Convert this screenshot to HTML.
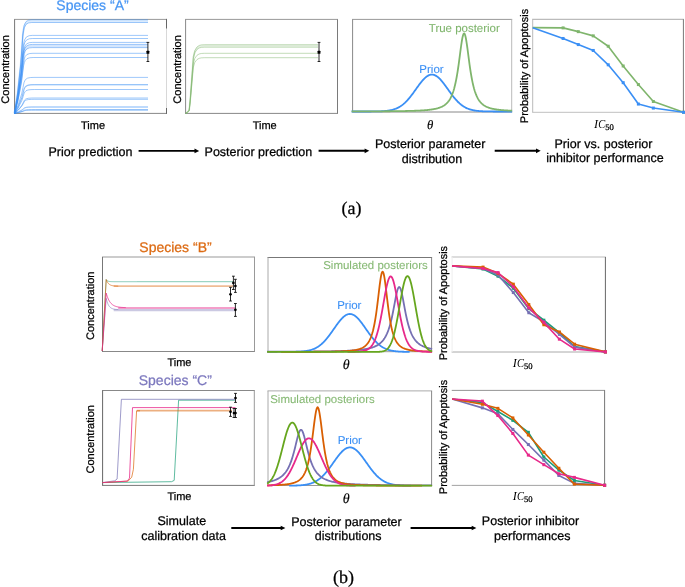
<!DOCTYPE html>
<html lang="en"><head><meta charset="utf-8"><title>Figure</title>
<style>html,body{margin:0;padding:0;background:#fff}svg{display:block}text{text-rendering:geometricPrecision}</style></head>
<body>
<svg width="685" height="587" viewBox="0 0 685 587">
<rect width="685" height="587" fill="#fff"/>
<path d="M14.1 19.4 H167" stroke="#999" stroke-width="1"/>
<path d="M14.1 113.4 H167" stroke="#888" stroke-width="1"/>
<path d="M14.6 19.4 V113.4" stroke="#777" stroke-width="1"/>
<path d="M166.5 19.4 V113.4" stroke="#d8d8d8" stroke-width="1"/>
<path d="M14.6 113.4 L17.6 92.81 L20.8 62.86 L22 46.01 L22.8 33.84 L23.6 28.22 L24.3 24.95 L26 21.67 L28.6 20.17 L31.6 19.8 L148 19.8" fill="none" stroke="#3a8ff5" stroke-width="0.8" stroke-opacity="0.62" stroke-linejoin="round" />
<path d="M14.6 113.4 L17.62 93.4 L20.84 64.31 L22.05 47.95 L22.85 36.14 L23.66 30.68 L24.36 27.5 L26.08 24.32 L28.69 22.86 L31.71 22.5 L148 22.5" fill="none" stroke="#3a8ff5" stroke-width="0.8" stroke-opacity="0.62" stroke-linejoin="round" />
<path d="M14.6 113.4 L17.71 96.24 L21.04 71.28 L22.28 57.24 L23.11 47.1 L23.94 42.42 L24.67 39.69 L26.43 36.96 L29.13 35.71 L32.25 35.4 L148 35.4" fill="none" stroke="#3a8ff5" stroke-width="0.8" stroke-opacity="0.62" stroke-linejoin="round" />
<path d="M14.6 113.4 L17.74 96.92 L21.08 72.95 L22.34 59.47 L23.17 49.73 L24.01 45.24 L24.74 42.62 L26.52 40 L29.24 38.8 L32.38 38.5 L148 38.5" fill="none" stroke="#3a8ff5" stroke-width="0.8" stroke-opacity="0.62" stroke-linejoin="round" />
<path d="M14.6 113.4 L17.77 97.78 L21.14 75.06 L22.41 62.28 L23.25 53.05 L24.1 48.79 L24.84 46.31 L26.63 43.82 L29.37 42.68 L32.54 42.4 L148 42.4" fill="none" stroke="#3a8ff5" stroke-width="0.8" stroke-opacity="0.62" stroke-linejoin="round" />
<path d="M14.6 113.4 L17.78 98.22 L21.17 76.14 L22.44 63.72 L23.29 54.75 L24.14 50.61 L24.88 48.2 L26.69 45.78 L29.44 44.68 L32.62 44.4 L148 44.4" fill="none" stroke="#3a8ff5" stroke-width="0.8" stroke-opacity="0.62" stroke-linejoin="round" />
<path d="M14.6 113.4 L17.8 98.92 L21.22 77.87 L22.5 66.02 L23.36 57.47 L24.21 53.52 L24.96 51.22 L26.77 48.92 L29.55 47.86 L32.76 47.6 L148 47.6" fill="none" stroke="#3a8ff5" stroke-width="0.8" stroke-opacity="0.62" stroke-linejoin="round" />
<path d="M14.6 113.4 L17.85 100.18 L21.31 80.95 L22.61 70.13 L23.47 62.31 L24.34 58.71 L25.09 56.61 L26.93 54.5 L29.75 53.54 L32.99 53.3 L148 53.3" fill="none" stroke="#3a8ff5" stroke-width="0.8" stroke-opacity="0.62" stroke-linejoin="round" />
<path d="M14.6 113.4 L17.88 101.1 L21.37 83.21 L22.68 73.15 L23.56 65.89 L24.43 62.53 L25.19 60.57 L27.05 58.62 L29.89 57.72 L33.17 57.5 L148 57.5" fill="none" stroke="#3a8ff5" stroke-width="0.8" stroke-opacity="0.62" stroke-linejoin="round" />
<path d="M14.6 113.4 L18.02 105.48 L21.67 93.96 L23.04 87.48 L23.95 82.8 L24.87 80.64 L25.67 79.38 L27.61 78.12 L30.57 77.54 L33.99 77.4 L148 77.4" fill="none" stroke="#3a8ff5" stroke-width="0.8" stroke-opacity="0.62" stroke-linejoin="round" />
<path d="M14.6 113.4 L18.08 107.09 L21.78 97.9 L23.17 92.74 L24.1 89 L25.03 87.28 L25.84 86.28 L27.81 85.27 L30.82 84.81 L34.3 84.7 L148 84.7" fill="none" stroke="#3a8ff5" stroke-width="0.8" stroke-opacity="0.62" stroke-linejoin="round" />
<path d="M14.6 113.4 L18.11 108.14 L21.86 100.49 L23.26 96.19 L24.2 93.09 L25.13 91.65 L25.95 90.81 L27.94 89.98 L30.99 89.6 L34.5 89.5 L148 89.5" fill="none" stroke="#3a8ff5" stroke-width="0.8" stroke-opacity="0.62" stroke-linejoin="round" />
<path d="M14.6 113.4 L18.17 110.01 L21.99 105.08 L23.41 102.31 L24.37 100.31 L25.32 99.39 L26.15 98.85 L28.18 98.31 L31.28 98.06 L34.85 98 L148 98" fill="none" stroke="#3a8ff5" stroke-width="0.8" stroke-opacity="0.62" stroke-linejoin="round" />
<path d="M14.6 113.4 L18.18 110.3 L22 105.79 L23.44 103.25 L24.39 101.41 L25.35 100.57 L26.19 100.08 L28.22 99.58 L31.32 99.36 L34.9 99.3 L148 99.3" fill="none" stroke="#3a8ff5" stroke-width="0.8" stroke-opacity="0.62" stroke-linejoin="round" />
<path d="M14.6 113.4 L18.24 111.99 L22.12 109.94 L23.58 108.79 L24.55 107.96 L25.52 107.58 L26.37 107.35 L28.43 107.13 L31.58 107.03 L35.22 107 L148 107" fill="none" stroke="#3a8ff5" stroke-width="0.8" stroke-opacity="0.62" stroke-linejoin="round" />
<path d="M14.6 113.4 L18.26 112.56 L22.16 111.35 L23.62 110.66 L24.6 110.17 L25.58 109.94 L26.43 109.81 L28.5 109.68 L31.67 109.62 L35.33 109.6 L148 109.6" fill="none" stroke="#3a8ff5" stroke-width="0.8" stroke-opacity="0.62" stroke-linejoin="round" />
<path d="M14.6 113.4 L18.26 112.7 L22.17 111.67 L23.64 111.1 L24.61 110.68 L25.59 110.49 L26.44 110.38 L28.52 110.26 L31.69 110.21 L35.36 110.2 L148 110.2" fill="none" stroke="#3a8ff5" stroke-width="0.8" stroke-opacity="0.62" stroke-linejoin="round" />
<path d="M14.6 113.4 L17.61 93.12 L20.82 63.61 L22.03 47.02 L22.83 35.03 L23.63 29.5 L24.33 26.27 L26.04 23.04 L28.65 21.57 L31.66 21.2 L148 21.2" fill="none" stroke="#3a8ff5" stroke-width="2.0" stroke-opacity="0.18" stroke-linejoin="round" />
<path d="M14.6 113.4 L17.79 98.57 L21.2 77 L22.47 64.87 L23.33 56.11 L24.18 52.07 L24.92 49.71 L26.73 47.35 L29.5 46.27 L32.69 46 L148 46" fill="none" stroke="#3a8ff5" stroke-width="2.6" stroke-opacity="0.22" stroke-linejoin="round" />
<path d="M14.6 113.4 L18.08 107.09 L21.78 97.9 L23.17 92.74 L24.1 89 L25.03 87.28 L25.84 86.28 L27.81 85.27 L30.82 84.81 L34.3 84.7 L148 84.7" fill="none" stroke="#3a8ff5" stroke-width="1.4" stroke-opacity="0.2" stroke-linejoin="round" />
<path d="M14.6 113.4 L18.24 111.99 L22.12 109.94 L23.58 108.79 L24.55 107.96 L25.52 107.58 L26.37 107.35 L28.43 107.13 L31.58 107.03 L35.22 107 L148 107" fill="none" stroke="#3a8ff5" stroke-width="1.4" stroke-opacity="0.15" stroke-linejoin="round" />
<path d="M166.5 18.9 V28.5 M166.5 108 V113.9" stroke="#666" stroke-width="1"/>
<path d="M147.9 42.4 V61.5 M146.5 42.4 H149.3 M146.5 61.5 H149.3" stroke="#111" stroke-width="0.9" fill="none"/>
<rect x="146.45" y="50.75" width="2.9" height="2.9" rx="0.5" fill="#000"/>
<text x="92.5" y="9.8" font-size="14" fill="#4896f4" stroke="#4896f4" stroke-width="0.25" text-anchor="middle" font-family="Liberation Sans, Arial, sans-serif" >Species “A”</text>
<text transform="translate(8.9 69.4) rotate(-90)" font-size="11" fill="#000" stroke="#000" stroke-width="0.25" text-anchor="middle" font-family="Liberation Sans, Arial, sans-serif" >Concentration</text>
<text x="93" y="128.9" font-size="11" fill="#000" stroke="#000" stroke-width="0.25" text-anchor="middle" font-family="Liberation Sans, Arial, sans-serif" >Time</text>
<path d="M185.1 19.4 H338" stroke="#999" stroke-width="1"/>
<path d="M185.1 113.4 H338" stroke="#888" stroke-width="1"/>
<path d="M185.6 19.4 V113.4" stroke="#888" stroke-width="1"/>
<path d="M337.5 19.4 V113.4" stroke="#7a7a7a" stroke-width="1"/>
<path d="M185.6 113.4 L187.1 112.58 L189.2 109.97 L190.2 99.66 L193.4 56.38 L194.8 50.54 L197 46.97 L199.1 45.52 L201.2 44.91 L204.6 44.7 L318 44.7" fill="none" stroke="#7fb56c" stroke-width="0.8" stroke-opacity="0.6" stroke-linejoin="round" />
<path d="M185.6 113.4 L187.1 112.59 L189.2 110.03 L190.2 99.91 L193.4 57.42 L194.8 51.68 L197 48.18 L199.1 46.76 L201.2 46.15 L204.6 45.95 L318 45.95" fill="none" stroke="#7fb56c" stroke-width="1.8" stroke-opacity="0.2" stroke-linejoin="round" />
<path d="M185.6 113.4 L187.1 112.61 L189.2 110.09 L190.2 100.16 L193.4 58.45 L194.8 52.83 L197 49.38 L199.1 47.99 L201.2 47.4 L204.6 47.2 L318 47.2" fill="none" stroke="#7fb56c" stroke-width="0.8" stroke-opacity="0.6" stroke-linejoin="round" />
<path d="M185.6 113.4 L187.1 112.68 L189.2 110.4 L190.2 101.38 L193.4 63.52 L194.8 58.41 L197 55.28 L199.1 54.02 L201.2 53.48 L204.6 53.3 L318 53.3" fill="none" stroke="#7fb56c" stroke-width="0.8" stroke-opacity="0.6" stroke-linejoin="round" />
<path d="M185.6 113.4 L187.1 112.73 L189.2 110.62 L190.2 102.26 L193.4 67.17 L194.8 62.43 L197 59.54 L199.1 58.37 L201.2 57.87 L204.6 57.7 L318 57.7" fill="none" stroke="#7fb56c" stroke-width="0.8" stroke-opacity="0.6" stroke-linejoin="round" />
<path d="M319 42.4 V61.5 M317.6 42.4 H320.4 M317.6 61.5 H320.4" stroke="#111" stroke-width="0.9" fill="none"/>
<rect x="317.55" y="50.75" width="2.9" height="2.9" rx="0.5" fill="#000"/>
<text transform="translate(180.8 69.4) rotate(-90)" font-size="11" fill="#000" stroke="#000" stroke-width="0.25" text-anchor="middle" font-family="Liberation Sans, Arial, sans-serif" >Concentration</text>
<text x="264.7" y="128.9" font-size="11" fill="#000" stroke="#000" stroke-width="0.25" text-anchor="middle" font-family="Liberation Sans, Arial, sans-serif" >Time</text>
<path d="M352.1 19.4 H512.2" stroke="#999" stroke-width="1"/>
<path d="M352.1 112 H512.2" stroke="#888" stroke-width="1"/>
<path d="M352.6 19.4 V112" stroke="#888" stroke-width="1"/>
<path d="M511.7 19.4 V112" stroke="#bbb" stroke-width="1"/>
<path d="M351.6 111.5 L352.1 111.5 L352.6 111.5 L353.1 111.5 L353.6 111.5 L354.1 111.5 L354.6 111.5 L355.1 111.5 L355.6 111.5 L356.1 111.5 L356.6 111.5 L357.1 111.5 L357.6 111.5 L358.1 111.5 L358.6 111.5 L359.1 111.5 L359.6 111.5 L360.1 111.5 L360.6 111.5 L361.1 111.5 L361.6 111.5 L362.1 111.5 L362.6 111.5 L363.1 111.5 L363.6 111.5 L364.1 111.5 L364.6 111.5 L365.1 111.49 L365.6 111.49 L366.1 111.49 L366.6 111.49 L367.1 111.49 L367.6 111.49 L368.1 111.49 L368.6 111.49 L369.1 111.48 L369.6 111.48 L370.1 111.48 L370.6 111.48 L371.1 111.48 L371.6 111.47 L372.1 111.47 L372.6 111.46 L373.1 111.46 L373.6 111.46 L374.1 111.45 L374.6 111.44 L375.1 111.44 L375.6 111.43 L376.1 111.42 L376.6 111.41 L377.1 111.4 L377.6 111.39 L378.1 111.38 L378.6 111.37 L379.1 111.35 L379.6 111.33 L380.1 111.32 L380.6 111.3 L381.1 111.28 L381.6 111.25 L382.1 111.23 L382.6 111.2 L383.1 111.17 L383.6 111.13 L384.1 111.1 L384.6 111.06 L385.1 111.01 L385.6 110.97 L386.1 110.92 L386.6 110.86 L387.1 110.8 L387.6 110.74 L388.1 110.67 L388.6 110.6 L389.1 110.51 L389.6 110.43 L390.1 110.34 L390.6 110.24 L391.1 110.13 L391.6 110.01 L392.1 109.89 L392.6 109.76 L393.1 109.62 L393.6 109.47 L394.1 109.31 L394.6 109.14 L395.1 108.97 L395.6 108.78 L396.1 108.57 L396.6 108.36 L397.1 108.14 L397.6 107.9 L398.1 107.65 L398.6 107.38 L399.1 107.11 L399.6 106.81 L400.1 106.51 L400.6 106.18 L401.1 105.85 L401.6 105.5 L402.1 105.13 L402.6 104.74 L403.1 104.35 L403.6 103.93 L404.1 103.5 L404.6 103.05 L405.1 102.59 L405.6 102.1 L406.1 101.61 L406.6 101.1 L407.1 100.57 L407.6 100.02 L408.1 99.46 L408.6 98.89 L409.1 98.3 L409.6 97.7 L410.1 97.08 L410.6 96.46 L411.1 95.82 L411.6 95.17 L412.1 94.51 L412.6 93.84 L413.1 93.16 L413.6 92.47 L414.1 91.78 L414.6 91.08 L415.1 90.38 L415.6 89.68 L416.1 88.98 L416.6 88.27 L417.1 87.57 L417.6 86.87 L418.1 86.18 L418.6 85.49 L419.1 84.81 L419.6 84.14 L420.1 83.48 L420.6 82.84 L421.1 82.2 L421.6 81.58 L422.1 80.98 L422.6 80.4 L423.1 79.84 L423.6 79.3 L424.1 78.78 L424.6 78.29 L425.1 77.82 L425.6 77.39 L426.1 76.98 L426.6 76.59 L427.1 76.24 L427.6 75.93 L428.1 75.64 L428.6 75.39 L429.1 75.17 L429.6 74.98 L430.1 74.84 L430.6 74.72 L431.1 74.65 L431.6 74.61 L432.1 74.6 L432.6 74.64 L433.1 74.7 L433.6 74.81 L434.1 74.95 L434.6 75.13 L435.1 75.34 L435.6 75.59 L436.1 75.87 L436.6 76.18 L437.1 76.52 L437.6 76.9 L438.1 77.3 L438.6 77.73 L439.1 78.2 L439.6 78.68 L440.1 79.19 L440.6 79.73 L441.1 80.29 L441.6 80.87 L442.1 81.46 L442.6 82.08 L443.1 82.71 L443.6 83.35 L444.1 84.01 L444.6 84.68 L445.1 85.36 L445.6 86.04 L446.1 86.74 L446.6 87.43 L447.1 88.13 L447.6 88.84 L448.1 89.54 L448.6 90.24 L449.1 90.94 L449.6 91.64 L450.1 92.33 L450.6 93.02 L451.1 93.7 L451.6 94.37 L452.1 95.04 L452.6 95.69 L453.1 96.33 L453.6 96.96 L454.1 97.58 L454.6 98.18 L455.1 98.77 L455.6 99.35 L456.1 99.91 L456.6 100.46 L457.1 100.99 L457.6 101.51 L458.1 102.01 L458.6 102.49 L459.1 102.96 L459.6 103.41 L460.1 103.84 L460.6 104.26 L461.1 104.67 L461.6 105.05 L462.1 105.42 L462.6 105.78 L463.1 106.12 L463.6 106.44 L464.1 106.75 L464.6 107.05 L465.1 107.33 L465.6 107.6 L466.1 107.85 L466.6 108.09 L467.1 108.32 L467.6 108.53 L468.1 108.74 L468.6 108.93 L469.1 109.11 L469.6 109.28 L470.1 109.44 L470.6 109.59 L471.1 109.73 L471.6 109.87 L472.1 109.99 L472.6 110.11 L473.1 110.21 L473.6 110.32 L474.1 110.41 L474.6 110.5 L475.1 110.58 L475.6 110.66 L476.1 110.73 L476.6 110.79 L477.1 110.85 L477.6 110.91 L478.1 110.96 L478.6 111.01 L479.1 111.05 L479.6 111.09 L480.1 111.13 L480.6 111.16 L481.1 111.19 L481.6 111.22 L482.1 111.25 L482.6 111.27 L483.1 111.29 L483.6 111.31 L484.1 111.33 L484.6 111.35 L485.1 111.36 L485.6 111.38 L486.1 111.39 L486.6 111.4 L487.1 111.41 L487.6 111.42 L488.1 111.43 L488.6 111.44 L489.1 111.44 L489.6 111.45 L490.1 111.45 L490.6 111.46 L491.1 111.46 L491.6 111.47 L492.1 111.47 L492.6 111.47 L493.1 111.48 L493.6 111.48 L494.1 111.48 L494.6 111.48 L495.1 111.49 L495.6 111.49 L496.1 111.49 L496.6 111.49 L497.1 111.49 L497.6 111.49 L498.1 111.49 L498.6 111.49 L499.1 111.5 L499.6 111.5 L500.1 111.5 L500.6 111.5 L501.1 111.5 L501.6 111.5 L502.1 111.5 L502.6 111.5 L503.1 111.5 L503.6 111.5 L504.1 111.5 L504.6 111.5 L505.1 111.5 L505.6 111.5 L506.1 111.5 L506.6 111.5 L507.1 111.5 L507.6 111.5 L508.1 111.5 L508.6 111.5 L509.1 111.5 L509.6 111.5 L510.1 111.5 L510.6 111.5 L511.1 111.5 L511.6 111.5 L512.1 111.5" fill="none" stroke="#3a8ff5" stroke-width="1.8" stroke-linejoin="round" />
<path d="M351.6 111.4 L352.1 111.4 L352.6 111.4 L353.1 111.4 L353.6 111.4 L354.1 111.4 L354.6 111.4 L355.1 111.4 L355.6 111.4 L356.1 111.39 L356.6 111.39 L357.1 111.39 L357.6 111.39 L358.1 111.39 L358.6 111.39 L359.1 111.39 L359.6 111.39 L360.1 111.38 L360.6 111.38 L361.1 111.38 L361.6 111.38 L362.1 111.38 L362.6 111.38 L363.1 111.37 L363.6 111.37 L364.1 111.37 L364.6 111.37 L365.1 111.37 L365.6 111.37 L366.1 111.37 L366.6 111.36 L367.1 111.36 L367.6 111.36 L368.1 111.36 L368.6 111.36 L369.1 111.35 L369.6 111.35 L370.1 111.35 L370.6 111.35 L371.1 111.35 L371.6 111.34 L372.1 111.34 L372.6 111.34 L373.1 111.34 L373.6 111.34 L374.1 111.33 L374.6 111.33 L375.1 111.33 L375.6 111.33 L376.1 111.32 L376.6 111.32 L377.1 111.32 L377.6 111.32 L378.1 111.31 L378.6 111.31 L379.1 111.31 L379.6 111.31 L380.1 111.3 L380.6 111.3 L381.1 111.3 L381.6 111.29 L382.1 111.29 L382.6 111.29 L383.1 111.28 L383.6 111.28 L384.1 111.28 L384.6 111.27 L385.1 111.27 L385.6 111.27 L386.1 111.26 L386.6 111.26 L387.1 111.25 L387.6 111.25 L388.1 111.25 L388.6 111.24 L389.1 111.24 L389.6 111.23 L390.1 111.23 L390.6 111.22 L391.1 111.22 L391.6 111.22 L392.1 111.21 L392.6 111.21 L393.1 111.2 L393.6 111.2 L394.1 111.19 L394.6 111.18 L395.1 111.18 L395.6 111.17 L396.1 111.17 L396.6 111.16 L397.1 111.15 L397.6 111.15 L398.1 111.14 L398.6 111.13 L399.1 111.13 L399.6 111.12 L400.1 111.11 L400.6 111.11 L401.1 111.1 L401.6 111.09 L402.1 111.08 L402.6 111.07 L403.1 111.06 L403.6 111.06 L404.1 111.05 L404.6 111.04 L405.1 111.03 L405.6 111.02 L406.1 111.01 L406.6 111 L407.1 110.99 L407.6 110.97 L408.1 110.96 L408.6 110.95 L409.1 110.94 L409.6 110.93 L410.1 110.91 L410.6 110.9 L411.1 110.88 L411.6 110.87 L412.1 110.86 L412.6 110.84 L413.1 110.82 L413.6 110.81 L414.1 110.79 L414.6 110.77 L415.1 110.75 L415.6 110.74 L416.1 110.72 L416.6 110.7 L417.1 110.68 L417.6 110.65 L418.1 110.63 L418.6 110.61 L419.1 110.58 L419.6 110.56 L420.1 110.53 L420.6 110.5 L421.1 110.48 L421.6 110.45 L422.1 110.42 L422.6 110.38 L423.1 110.35 L423.6 110.32 L424.1 110.28 L424.6 110.24 L425.1 110.2 L425.6 110.16 L426.1 110.12 L426.6 110.08 L427.1 110.03 L427.6 109.98 L428.1 109.93 L428.6 109.88 L429.1 109.82 L429.6 109.76 L430.1 109.7 L430.6 109.64 L431.1 109.57 L431.6 109.5 L432.1 109.42 L432.6 109.34 L433.1 109.26 L433.6 109.17 L434.1 109.08 L434.6 108.98 L435.1 108.88 L435.6 108.77 L436.1 108.66 L436.6 108.54 L437.1 108.41 L437.6 108.27 L438.1 108.13 L438.6 107.97 L439.1 107.81 L439.6 107.64 L440.1 107.45 L440.6 107.26 L441.1 107.04 L441.6 106.82 L442.1 106.58 L442.6 106.32 L443.1 106.04 L443.6 105.75 L444.1 105.43 L444.6 105.09 L445.1 104.72 L445.6 104.32 L446.1 103.89 L446.6 103.43 L447.1 102.92 L447.6 102.38 L448.1 101.79 L448.6 101.15 L449.1 100.45 L449.6 99.69 L450.1 98.86 L450.6 97.95 L451.1 96.96 L451.6 95.88 L452.1 94.7 L452.6 93.4 L453.1 91.98 L453.6 90.43 L454.1 88.72 L454.6 86.85 L455.1 84.81 L455.6 82.57 L456.1 80.14 L456.6 77.49 L457.1 74.63 L457.6 71.55 L458.1 68.26 L458.6 64.77 L459.1 61.11 L459.6 57.34 L460.1 53.5 L460.6 49.69 L461.1 46 L461.6 42.56 L462.1 39.5 L462.6 36.94 L463.1 35.01 L463.6 33.81 L464.1 33.4 L464.6 33.81 L465.1 35.01 L465.6 36.94 L466.1 39.5 L466.6 42.56 L467.1 46 L467.6 49.69 L468.1 53.5 L468.6 57.34 L469.1 61.11 L469.6 64.77 L470.1 68.26 L470.6 71.55 L471.1 74.63 L471.6 77.49 L472.1 80.14 L472.6 82.57 L473.1 84.81 L473.6 86.85 L474.1 88.72 L474.6 90.43 L475.1 91.98 L475.6 93.4 L476.1 94.7 L476.6 95.88 L477.1 96.96 L477.6 97.95 L478.1 98.86 L478.6 99.69 L479.1 100.45 L479.6 101.15 L480.1 101.79 L480.6 102.38 L481.1 102.92 L481.6 103.43 L482.1 103.89 L482.6 104.32 L483.1 104.72 L483.6 105.09 L484.1 105.43 L484.6 105.75 L485.1 106.04 L485.6 106.32 L486.1 106.58 L486.6 106.82 L487.1 107.04 L487.6 107.26 L488.1 107.45 L488.6 107.64 L489.1 107.81 L489.6 107.97 L490.1 108.13 L490.6 108.27 L491.1 108.41 L491.6 108.54 L492.1 108.66 L492.6 108.77 L493.1 108.88 L493.6 108.98 L494.1 109.08 L494.6 109.17 L495.1 109.26 L495.6 109.34 L496.1 109.42 L496.6 109.5 L497.1 109.57 L497.6 109.64 L498.1 109.7 L498.6 109.76 L499.1 109.82 L499.6 109.88 L500.1 109.93 L500.6 109.98 L501.1 110.03 L501.6 110.08 L502.1 110.12 L502.6 110.16 L503.1 110.2 L503.6 110.24 L504.1 110.28 L504.6 110.32 L505.1 110.35 L505.6 110.38 L506.1 110.42 L506.6 110.45 L507.1 110.48 L507.6 110.5 L508.1 110.53 L508.6 110.56 L509.1 110.58 L509.6 110.61 L510.1 110.63 L510.6 110.65 L511.1 110.68 L511.6 110.7 L512.1 110.72" fill="none" stroke="#7fb56c" stroke-width="1.8" stroke-linejoin="round" />
<text x="464.3" y="31.9" font-size="11.4" fill="#7fb56c" stroke="#7fb56c" stroke-width="0.08" text-anchor="middle" font-family="Liberation Sans, Arial, sans-serif" textLength="71" lengthAdjust="spacingAndGlyphs">True posterior</text>
<text x="431.5" y="72.6" font-size="11.4" fill="#3a8ff5" stroke="#3a8ff5" stroke-width="0.08" text-anchor="middle" font-family="Liberation Sans, Arial, sans-serif" textLength="24.3" lengthAdjust="spacingAndGlyphs">Prior</text>
<text x="430.2" y="129" font-size="12.8" text-anchor="middle" font-family="Liberation Serif, Times New Roman, serif" font-style="italic" fill="#000" stroke="#000" stroke-width="0.15">θ</text>
<path d="M532.2 19.3 H683.9" stroke="#aaa" stroke-width="1"/>
<path d="M532.2 112.3 H683.9" stroke="#c0c0c0" stroke-width="1"/>
<path d="M532.7 19.3 V112.3" stroke="#bbb" stroke-width="1"/>
<path d="M683.4 19.3 V112.3" stroke="#777" stroke-width="1"/>
<path d="M532.7 27.65 L563.09 27.89 L578.29 31.65 L593.25 35.88 L608.22 46.23 L623.18 65.98 L638.38 84.55 L653.34 101.48 L683.5 112.3" fill="none" stroke="#7fb56c" stroke-width="1.6" stroke-linejoin="round" />
<rect x="561.59" y="26.39" width="3" height="3" fill="#7fb56c"/>
<rect x="576.79" y="30.15" width="3" height="3" fill="#7fb56c"/>
<rect x="591.75" y="34.38" width="3" height="3" fill="#7fb56c"/>
<rect x="606.72" y="44.73" width="3" height="3" fill="#7fb56c"/>
<rect x="621.68" y="64.48" width="3" height="3" fill="#7fb56c"/>
<rect x="636.88" y="83.05" width="3" height="3" fill="#7fb56c"/>
<rect x="651.84" y="99.98" width="3" height="3" fill="#7fb56c"/>
<rect x="682" y="110.8" width="3" height="3" fill="#7fb56c"/>
<path d="M532.7 27.65 L563.09 38.47 L578.29 44.58 L593.25 50.46 L608.22 64.8 L623.18 82.67 L638.38 104.07 L653.34 108.07 L683.5 112.3" fill="none" stroke="#3a8ff5" stroke-width="1.6" stroke-linejoin="round" />
<rect x="561.59" y="36.97" width="3" height="3" fill="#3a8ff5"/>
<rect x="576.79" y="43.08" width="3" height="3" fill="#3a8ff5"/>
<rect x="591.75" y="48.96" width="3" height="3" fill="#3a8ff5"/>
<rect x="606.72" y="63.3" width="3" height="3" fill="#3a8ff5"/>
<rect x="621.68" y="81.17" width="3" height="3" fill="#3a8ff5"/>
<rect x="636.88" y="102.57" width="3" height="3" fill="#3a8ff5"/>
<rect x="651.84" y="106.57" width="3" height="3" fill="#3a8ff5"/>
<rect x="682" y="110.8" width="3" height="3" fill="#3a8ff5"/>
<text transform="translate(528.3 66) rotate(-90)" font-size="11" fill="#000" stroke="#000" stroke-width="0.25" text-anchor="middle" font-family="Liberation Sans, Arial, sans-serif" >Probability of Apoptosis</text>
<text y="128" font-size="12.2" font-family="Liberation Serif, Times New Roman, serif" font-style="italic" fill="#000"><tspan x="594">I</tspan><tspan x="598.3" textLength="7" lengthAdjust="spacingAndGlyphs">C</tspan><tspan x="605.2" dy="2" font-size="8.6" font-style="normal" stroke="#000" stroke-width="0.25">50</tspan></text>
<text x="90.5" y="156" font-size="12.5" fill="#000" stroke="#000" stroke-width="0.25" text-anchor="middle" font-family="Liberation Sans, Arial, sans-serif" >Prior prediction</text>
<path d="M138.6 150.9 H195.3" stroke="#000" stroke-width="1.9" fill="none"/>
<path d="M199.2 150.9 L194.5 148.55 L194.5 153.25 Z" fill="#000"/>
<text x="258.4" y="156" font-size="12.5" fill="#000" stroke="#000" stroke-width="0.25" text-anchor="middle" font-family="Liberation Sans, Arial, sans-serif" >Posterior prediction</text>
<path d="M318.6 150.8 H365.4" stroke="#000" stroke-width="1.9" fill="none"/>
<path d="M369.3 150.8 L364.6 148.45 L364.6 153.15 Z" fill="#000"/>
<text x="430.2" y="148.1" font-size="12.5" fill="#000" stroke="#000" stroke-width="0.25" text-anchor="middle" font-family="Liberation Sans, Arial, sans-serif" >Posterior parameter</text>
<text x="432" y="162.6" font-size="12.5" fill="#000" stroke="#000" stroke-width="0.25" text-anchor="middle" font-family="Liberation Sans, Arial, sans-serif" >distribution</text>
<path d="M494.7 150.8 H536.8" stroke="#000" stroke-width="1.9" fill="none"/>
<path d="M540.7 150.8 L536 148.45 L536 153.15 Z" fill="#000"/>
<text x="603.4" y="147.6" font-size="12.5" fill="#000" stroke="#000" stroke-width="0.25" text-anchor="middle" font-family="Liberation Sans, Arial, sans-serif" >Prior vs. posterior</text>
<text x="605" y="162.4" font-size="12.5" fill="#000" stroke="#000" stroke-width="0.25" text-anchor="middle" font-family="Liberation Sans, Arial, sans-serif" >inhibitor performance</text>
<text x="351.6" y="213.8" font-size="18" fill="#000" stroke="#000" stroke-width="0.25" text-anchor="middle" font-family="Liberation Serif, Times New Roman, serif" >(a)</text>
<path d="M102 257 H255" stroke="#999" stroke-width="1"/>
<path d="M102 351.5 H255" stroke="#888" stroke-width="1"/>
<path d="M102.5 257 V351.5" stroke="#777" stroke-width="1"/>
<path d="M254.5 257 V351.5" stroke="#999" stroke-width="1"/>
<path d="M102.2 351 L106.2 298.3 L106.2 298.3 L106.7 300.35 L107.2 302.03 L107.7 303.4 L108.2 304.52 L108.7 305.44 L109.2 306.2 L109.7 306.81 L110.2 307.32 L110.7 307.73 L111.2 308.07 L111.7 308.35 L112.2 308.57 L112.7 308.76 L113.2 308.91 L113.7 309.04 L114.2 309.14 L114.7 309.22 L115.2 309.29 L115.7 309.35 L116.2 309.39 L116.7 309.43 L117.2 309.46 L117.7 309.49 L118.2 309.51" fill="none" stroke="#7570b3" stroke-width="0.9" stroke-opacity="0.6" stroke-linejoin="round" />
<path d="M113.7 310.2 L235 310.2" fill="none" stroke="#7570b3" stroke-width="2.2" stroke-opacity="0.38" stroke-linejoin="round" />
<path d="M102.2 351 L106.2 279.6 L106.2 279.6 L106.7 280.2 L107.2 280.62 L107.7 280.93 L108.2 281.15 L108.7 281.3 L109.2 281.42 L109.7 281.5 L110.2 281.55 L110.7 281.6 L111.2 281.63 L111.7 281.65 L112.2 281.66 L112.7 281.67 L113.2 281.68 L113.7 281.69 L114.2 281.69 L114.7 281.69 L115.2 281.69 L115.7 281.7 L116.2 281.7 L116.7 281.7 L117.2 281.7 L117.7 281.7 L118.2 281.7 L118.7 281.7 L119.2 281.7 L119.7 281.7 L120.2 281.7 L120.7 281.7 L121.2 281.7 L121.7 281.7 L122.2 281.7 L122.7 281.7 L123.2 281.7 L123.7 281.7 L124.2 281.7 L124.7 281.7 L125.2 281.7 L125.7 281.7 L126.2 281.7 L126.7 281.7 L127.2 281.7 L127.7 281.7 L128.2 281.7 L128.7 281.7 L129.2 281.7 L129.7 281.7 L130.2 281.7 L130.7 281.7 L131.2 281.7 L131.7 281.7 L132.2 281.7 L132.7 281.7 L133.2 281.7 L133.7 281.7 L134.2 281.7 L134.7 281.7 L135.2 281.7 L135.7 281.7 L136.2 281.7 L136.7 281.7 L233.4 281.7" fill="none" stroke="#1b9e77" stroke-width="0.9" stroke-opacity="0.6" stroke-linejoin="round" />
<path d="M102.2 351 L106.2 279.6 L106.2 279.6 L106.7 280.8 L107.2 281.78 L107.7 282.58 L108.2 283.23 L108.7 283.77 L109.2 284.21 L109.7 284.57 L110.2 284.87 L110.7 285.11 L111.2 285.31 L111.7 285.47 L112.2 285.6 L112.7 285.71 L113.2 285.8 L113.7 285.87 L114.2 285.93 L114.7 285.98 L115.2 286.02 L115.7 286.05 L116.2 286.08 L116.7 286.1 L117.2 286.12 L117.7 286.13 L118.2 286.15" fill="none" stroke="#d95f02" stroke-width="0.9" stroke-opacity="0.7" stroke-linejoin="round" />
<path d="M113.7 286.2 L233 286.2" fill="none" stroke="#d95f02" stroke-width="1.8" stroke-opacity="0.42" stroke-linejoin="round" />
<path d="M102.2 351 L106.2 293.1 L106.2 293.1 L106.7 294.82 L107.2 296.33 L107.7 297.67 L108.2 298.84 L108.7 299.89 L109.2 300.8 L109.7 301.61 L110.2 302.33 L110.7 302.96 L111.2 303.52 L111.7 304.01 L112.2 304.44 L112.7 304.83 L113.2 305.16 L113.7 305.46 L114.2 305.72 L114.7 305.96 L115.2 306.16 L115.7 306.34 L116.2 306.5 L116.7 306.64 L117.2 306.77 L117.7 306.88 L118.2 306.97 L118.7 307.06 L119.2 307.13 L119.7 307.2 L120.2 307.26 L120.7 307.31 L121.2 307.36 L121.7 307.4 L122.2 307.43 L122.7 307.46 L123.2 307.49 L123.7 307.52 L124.2 307.54 L124.7 307.56 L125.2 307.57 L125.7 307.59" fill="none" stroke="#e7298a" stroke-width="0.9" stroke-opacity="0.85" stroke-linejoin="round" />
<path d="M118.2 308 L235 308" fill="none" stroke="#e7298a" stroke-width="2.1" stroke-opacity="0.45" stroke-linejoin="round" />
<path d="M233.4 276.2 V289.5 M232 276.2 H234.8 M232 289.5 H234.8" stroke="#111" stroke-width="0.9" fill="none"/>
<circle cx="233.4" cy="282.9" r="1.35" fill="#000"/>
<path d="M235.4 279.3 V292.4 M234 279.3 H236.8 M234 292.4 H236.8" stroke="#111" stroke-width="0.9" fill="none"/>
<circle cx="235.4" cy="286" r="1.35" fill="#000"/>
<path d="M230.5 287.3 V301 M229.1 287.3 H231.9 M229.1 301 H231.9" stroke="#111" stroke-width="0.9" fill="none"/>
<circle cx="230.5" cy="294.3" r="1.35" fill="#000"/>
<path d="M235.4 303.5 V316.4 M234 303.5 H236.8 M234 316.4 H236.8" stroke="#111" stroke-width="0.9" fill="none"/>
<circle cx="235.4" cy="309.8" r="1.35" fill="#000"/>
<text x="175.5" y="252" font-size="14" fill="#dc6a12" stroke="#dc6a12" stroke-width="0.25" text-anchor="middle" font-family="Liberation Sans, Arial, sans-serif" >Species “B”</text>
<text transform="translate(94.4 305.8) rotate(-90)" font-size="11" fill="#000" stroke="#000" stroke-width="0.25" text-anchor="middle" font-family="Liberation Sans, Arial, sans-serif" >Concentration</text>
<text x="179.4" y="366" font-size="11" fill="#000" stroke="#000" stroke-width="0.25" text-anchor="middle" font-family="Liberation Sans, Arial, sans-serif" >Time</text>
<path d="M267.5 257.5 H432.1" stroke="#777" stroke-width="1"/>
<path d="M267.5 351.7 H432.1" stroke="#999" stroke-width="1"/>
<path d="M268 257.5 V351.7" stroke="#aaa" stroke-width="1"/>
<path d="M431.6 257.5 V351.7" stroke="#888" stroke-width="1"/>
<path d="M290.6 351.86 L291.1 351.86 L291.6 351.85 L292.1 351.84 L292.6 351.84 L293.1 351.83 L293.6 351.82 L294.1 351.81 L294.6 351.8 L295.1 351.79 L295.6 351.78 L296.1 351.77 L296.6 351.75 L297.1 351.74 L297.6 351.72 L298.1 351.7 L298.6 351.68 L299.1 351.65 L299.6 351.63 L300.1 351.6 L300.6 351.57 L301.1 351.54 L301.6 351.5 L302.1 351.46 L302.6 351.42 L303.1 351.37 L303.6 351.32 L304.1 351.27 L304.6 351.21 L305.1 351.15 L305.6 351.08 L306.1 351.01 L306.6 350.93 L307.1 350.84 L307.6 350.75 L308.1 350.65 L308.6 350.55 L309.1 350.43 L309.6 350.31 L310.1 350.18 L310.6 350.04 L311.1 349.9 L311.6 349.74 L312.1 349.57 L312.6 349.4 L313.1 349.21 L313.6 349.01 L314.1 348.8 L314.6 348.58 L315.1 348.34 L315.6 348.09 L316.1 347.83 L316.6 347.55 L317.1 347.26 L317.6 346.96 L318.1 346.64 L318.6 346.31 L319.1 345.96 L319.6 345.59 L320.1 345.21 L320.6 344.81 L321.1 344.4 L321.6 343.97 L322.1 343.52 L322.6 343.06 L323.1 342.58 L323.6 342.08 L324.1 341.57 L324.6 341.04 L325.1 340.5 L325.6 339.94 L326.1 339.36 L326.6 338.77 L327.1 338.17 L327.6 337.55 L328.1 336.92 L328.6 336.28 L329.1 335.62 L329.6 334.95 L330.1 334.28 L330.6 333.59 L331.1 332.9 L331.6 332.2 L332.1 331.49 L332.6 330.78 L333.1 330.06 L333.6 329.34 L334.1 328.63 L334.6 327.91 L335.1 327.19 L335.6 326.48 L336.1 325.77 L336.6 325.07 L337.1 324.38 L337.6 323.7 L338.1 323.02 L338.6 322.37 L339.1 321.72 L339.6 321.09 L340.1 320.48 L340.6 319.89 L341.1 319.32 L341.6 318.77 L342.1 318.25 L342.6 317.75 L343.1 317.27 L343.6 316.83 L344.1 316.41 L344.6 316.02 L345.1 315.67 L345.6 315.34 L346.1 315.05 L346.6 314.8 L347.1 314.58 L347.6 314.39 L348.1 314.24 L348.6 314.12 L349.1 314.05 L349.6 314.01 L350.1 314 L350.6 314.04 L351.1 314.11 L351.6 314.21 L352.1 314.36 L352.6 314.54 L353.1 314.75 L353.6 315 L354.1 315.28 L354.6 315.6 L355.1 315.95 L355.6 316.33 L356.1 316.74 L356.6 317.18 L357.1 317.65 L357.6 318.14 L358.1 318.66 L358.6 319.21 L359.1 319.77 L359.6 320.36 L360.1 320.97 L360.6 321.59 L361.1 322.24 L361.6 322.89 L362.1 323.56 L362.6 324.24 L363.1 324.93 L363.6 325.63 L364.1 326.34 L364.6 327.05 L365.1 327.76 L365.6 328.48 L366.1 329.2 L366.6 329.92 L367.1 330.63 L367.6 331.35 L368.1 332.05 L368.6 332.76 L369.1 333.45 L369.6 334.14 L370.1 334.82 L370.6 335.49 L371.1 336.15 L371.6 336.79 L372.1 337.43 L372.6 338.05 L373.1 338.65 L373.6 339.25 L374.1 339.83 L374.6 340.39 L375.1 340.94 L375.6 341.47 L376.1 341.98 L376.6 342.48 L377.1 342.97 L377.6 343.43 L378.1 343.88 L378.6 344.31 L379.1 344.73 L379.6 345.13 L380.1 345.52 L380.6 345.89 L381.1 346.24 L381.6 346.58 L382.1 346.9 L382.6 347.21 L383.1 347.5 L383.6 347.78 L384.1 348.04 L384.6 348.29 L385.1 348.53 L385.6 348.76 L386.1 348.97 L386.6 349.17 L387.1 349.36 L387.6 349.54 L388.1 349.71 L388.6 349.87 L389.1 350.02 L389.6 350.16 L390.1 350.29 L390.6 350.41 L391.1 350.52 L391.6 350.63 L392.1 350.73 L392.6 350.82 L393.1 350.91 L393.6 350.99 L394.1 351.07 L394.6 351.13 L395.1 351.2 L395.6 351.26 L396.1 351.31 L396.6 351.36 L397.1 351.41 L397.6 351.45 L398.1 351.49 L398.6 351.53 L399.1 351.56 L399.6 351.6 L400.1 351.62 L400.6 351.65 L401.1 351.67 L401.6 351.7 L402.1 351.71 L402.6 351.73 L403.1 351.75 L403.6 351.76 L404.1 351.78 L404.6 351.79 L405.1 351.8 L405.6 351.81 L406.1 351.82 L406.6 351.83 L407.1 351.84 L407.6 351.84 L408.1 351.85 L408.6 351.85 L409.1 351.86 L409.6 351.86" fill="none" stroke="#3a8ff5" stroke-width="1.8" stroke-linejoin="round" />
<path d="M267.1 351.75 L267.6 351.75 L268.1 351.75 L268.6 351.75 L269.1 351.75 L269.6 351.75 L270.1 351.75 L270.6 351.74 L271.1 351.74 L271.6 351.74 L272.1 351.74 L272.6 351.74 L273.1 351.74 L273.6 351.74 L274.1 351.73 L274.6 351.73 L275.1 351.73 L275.6 351.73 L276.1 351.73 L276.6 351.73 L277.1 351.73 L277.6 351.72 L278.1 351.72 L278.6 351.72 L279.1 351.72 L279.6 351.72 L280.1 351.72 L280.6 351.71 L281.1 351.71 L281.6 351.71 L282.1 351.71 L282.6 351.71 L283.1 351.71 L283.6 351.7 L284.1 351.7 L284.6 351.7 L285.1 351.7 L285.6 351.7 L286.1 351.69 L286.6 351.69 L287.1 351.69 L287.6 351.69 L288.1 351.69 L288.6 351.68 L289.1 351.68 L289.6 351.68 L290.1 351.68 L290.6 351.67 L291.1 351.67 L291.6 351.67 L292.1 351.67 L292.6 351.67 L293.1 351.66 L293.6 351.66 L294.1 351.66 L294.6 351.66 L295.1 351.65 L295.6 351.65 L296.1 351.65 L296.6 351.64 L297.1 351.64 L297.6 351.64 L298.1 351.64 L298.6 351.63 L299.1 351.63 L299.6 351.63 L300.1 351.62 L300.6 351.62 L301.1 351.62 L301.6 351.62 L302.1 351.61 L302.6 351.61 L303.1 351.61 L303.6 351.6 L304.1 351.6 L304.6 351.6 L305.1 351.59 L305.6 351.59 L306.1 351.58 L306.6 351.58 L307.1 351.58 L307.6 351.57 L308.1 351.57 L308.6 351.57 L309.1 351.56 L309.6 351.56 L310.1 351.55 L310.6 351.55 L311.1 351.54 L311.6 351.54 L312.1 351.54 L312.6 351.53 L313.1 351.53 L313.6 351.52 L314.1 351.52 L314.6 351.51 L315.1 351.51 L315.6 351.5 L316.1 351.5 L316.6 351.49 L317.1 351.49 L317.6 351.48 L318.1 351.47 L318.6 351.47 L319.1 351.46 L319.6 351.46 L320.1 351.45 L320.6 351.44 L321.1 351.44 L321.6 351.43 L322.1 351.42 L322.6 351.42 L323.1 351.41 L323.6 351.4 L324.1 351.4 L324.6 351.39 L325.1 351.38 L325.6 351.37 L326.1 351.37 L326.6 351.36 L327.1 351.35 L327.6 351.34 L328.1 351.33 L328.6 351.32 L329.1 351.32 L329.6 351.31 L330.1 351.3 L330.6 351.29 L331.1 351.28 L331.6 351.27 L332.1 351.26 L332.6 351.25 L333.1 351.24 L333.6 351.22 L334.1 351.21 L334.6 351.2 L335.1 351.19 L335.6 351.18 L336.1 351.17 L336.6 351.15 L337.1 351.14 L337.6 351.13 L338.1 351.11 L338.6 351.1 L339.1 351.08 L339.6 351.07 L340.1 351.05 L340.6 351.04 L341.1 351.02 L341.6 351.01 L342.1 350.99 L342.6 350.97 L343.1 350.95 L343.6 350.94 L344.1 350.92 L344.6 350.9 L345.1 350.88 L345.6 350.86 L346.1 350.83 L346.6 350.81 L347.1 350.79 L347.6 350.77 L348.1 350.74 L348.6 350.72 L349.1 350.69 L349.6 350.67 L350.1 350.64 L350.6 350.61 L351.1 350.58 L351.6 350.55 L352.1 350.52 L352.6 350.49 L353.1 350.46 L353.6 350.42 L354.1 350.39 L354.6 350.35 L355.1 350.32 L355.6 350.28 L356.1 350.24 L356.6 350.2 L357.1 350.15 L357.6 350.11 L358.1 350.06 L358.6 350.01 L359.1 349.96 L359.6 349.91 L360.1 349.86 L360.6 349.8 L361.1 349.74 L361.6 349.68 L362.1 349.62 L362.6 349.55 L363.1 349.48 L363.6 349.41 L364.1 349.34 L364.6 349.26 L365.1 349.18 L365.6 349.09 L366.1 349.01 L366.6 348.91 L367.1 348.82 L367.6 348.72 L368.1 348.61 L368.6 348.5 L369.1 348.38 L369.6 348.26 L370.1 348.13 L370.6 348 L371.1 347.85 L371.6 347.7 L372.1 347.55 L372.6 347.38 L373.1 347.21 L373.6 347.02 L374.1 346.83 L374.6 346.62 L375.1 346.4 L375.6 346.17 L376.1 345.93 L376.6 345.67 L377.1 345.39 L377.6 345.1 L378.1 344.79 L378.6 344.46 L379.1 344.1 L379.6 343.73 L380.1 343.32 L380.6 342.89 L381.1 342.43 L381.6 341.94 L382.1 341.42 L382.6 340.85 L383.1 340.24 L383.6 339.59 L384.1 338.89 L384.6 338.13 L385.1 337.32 L385.6 336.44 L386.1 335.49 L386.6 334.47 L387.1 333.37 L387.6 332.18 L388.1 330.89 L388.6 329.51 L389.1 328.01 L389.6 326.4 L390.1 324.66 L390.6 322.8 L391.1 320.81 L391.6 318.68 L392.1 316.43 L392.6 314.04 L393.1 311.54 L393.6 308.94 L394.1 306.27 L394.6 303.56 L395.1 300.86 L395.6 298.21 L396.1 295.68 L396.6 293.35 L397.1 291.28 L397.6 289.55 L398.1 288.23 L398.6 287.37 L399.1 287.01 L399.6 287.17 L400.1 287.83 L400.6 288.97 L401.1 290.55 L401.6 292.49 L402.1 294.72 L402.6 297.18 L403.1 299.79 L403.6 302.48 L404.1 305.19 L404.6 307.88 L405.1 310.51 L405.6 313.05 L406.1 315.49 L406.6 317.8 L407.1 319.98 L407.6 322.02 L408.1 323.94 L408.6 325.72 L409.1 327.38 L409.6 328.92 L410.1 330.35 L410.6 331.68 L411.1 332.91 L411.6 334.04 L412.1 335.1 L412.6 336.07 L413.1 336.98 L413.6 337.81 L414.1 338.59 L414.6 339.32 L415.1 339.99 L415.6 340.61 L416.1 341.19 L416.6 341.74 L417.1 342.24 L417.6 342.71 L418.1 343.16 L418.6 343.57 L419.1 343.95 L419.6 344.32 L420.1 344.66 L420.6 344.98 L421.1 345.28 L421.6 345.56 L422.1 345.82 L422.6 346.07 L423.1 346.31 L423.6 346.53 L424.1 346.74 L424.6 346.94 L425.1 347.13 L425.6 347.31 L426.1 347.48 L426.6 347.64 L427.1 347.79 L427.6 347.94 L428.1 348.08 L428.6 348.21 L429.1 348.33 L429.6 348.45 L430.1 348.57 L430.6 348.67 L431.1 348.78 L431.6 348.88 L432.1 348.97" fill="none" stroke="#7570b3" stroke-width="1.8" stroke-linejoin="round" />
<path d="M281.1 351.86 L281.6 351.86 L282.1 351.86 L282.6 351.86 L283.1 351.86 L283.6 351.86 L284.1 351.86 L284.6 351.86 L285.1 351.86 L285.6 351.85 L286.1 351.85 L286.6 351.85 L287.1 351.85 L287.6 351.85 L288.1 351.85 L288.6 351.85 L289.1 351.85 L289.6 351.85 L290.1 351.85 L290.6 351.85 L291.1 351.85 L291.6 351.84 L292.1 351.84 L292.6 351.84 L293.1 351.84 L293.6 351.84 L294.1 351.84 L294.6 351.84 L295.1 351.84 L295.6 351.84 L296.1 351.84 L296.6 351.83 L297.1 351.83 L297.6 351.83 L298.1 351.83 L298.6 351.83 L299.1 351.83 L299.6 351.83 L300.1 351.83 L300.6 351.82 L301.1 351.82 L301.6 351.82 L302.1 351.82 L302.6 351.82 L303.1 351.82 L303.6 351.82 L304.1 351.81 L304.6 351.81 L305.1 351.81 L305.6 351.81 L306.1 351.81 L306.6 351.81 L307.1 351.8 L307.6 351.8 L308.1 351.8 L308.6 351.8 L309.1 351.8 L309.6 351.79 L310.1 351.79 L310.6 351.79 L311.1 351.79 L311.6 351.78 L312.1 351.78 L312.6 351.78 L313.1 351.78 L313.6 351.77 L314.1 351.77 L314.6 351.77 L315.1 351.77 L315.6 351.76 L316.1 351.76 L316.6 351.76 L317.1 351.75 L317.6 351.75 L318.1 351.75 L318.6 351.74 L319.1 351.74 L319.6 351.74 L320.1 351.73 L320.6 351.73 L321.1 351.72 L321.6 351.72 L322.1 351.72 L322.6 351.71 L323.1 351.71 L323.6 351.7 L324.1 351.7 L324.6 351.69 L325.1 351.69 L325.6 351.68 L326.1 351.67 L326.6 351.67 L327.1 351.66 L327.6 351.66 L328.1 351.65 L328.6 351.64 L329.1 351.63 L329.6 351.63 L330.1 351.62 L330.6 351.61 L331.1 351.6 L331.6 351.59 L332.1 351.59 L332.6 351.58 L333.1 351.57 L333.6 351.56 L334.1 351.55 L334.6 351.54 L335.1 351.52 L335.6 351.51 L336.1 351.5 L336.6 351.49 L337.1 351.47 L337.6 351.46 L338.1 351.45 L338.6 351.43 L339.1 351.41 L339.6 351.4 L340.1 351.38 L340.6 351.36 L341.1 351.34 L341.6 351.32 L342.1 351.3 L342.6 351.28 L343.1 351.26 L343.6 351.23 L344.1 351.21 L344.6 351.18 L345.1 351.16 L345.6 351.13 L346.1 351.1 L346.6 351.06 L347.1 351.03 L347.6 350.99 L348.1 350.96 L348.6 350.92 L349.1 350.87 L349.6 350.83 L350.1 350.78 L350.6 350.73 L351.1 350.68 L351.6 350.62 L352.1 350.56 L352.6 350.5 L353.1 350.43 L353.6 350.36 L354.1 350.28 L354.6 350.2 L355.1 350.11 L355.6 350.02 L356.1 349.92 L356.6 349.82 L357.1 349.7 L357.6 349.58 L358.1 349.45 L358.6 349.31 L359.1 349.16 L359.6 349 L360.1 348.82 L360.6 348.63 L361.1 348.43 L361.6 348.21 L362.1 347.97 L362.6 347.71 L363.1 347.43 L363.6 347.12 L364.1 346.79 L364.6 346.42 L365.1 346.03 L365.6 345.59 L366.1 345.12 L366.6 344.59 L367.1 344.02 L367.6 343.39 L368.1 342.7 L368.6 341.94 L369.1 341.09 L369.6 340.16 L370.1 339.13 L370.6 337.99 L371.1 336.73 L371.6 335.34 L372.1 333.79 L372.6 332.08 L373.1 330.18 L373.6 328.08 L374.1 325.77 L374.6 323.22 L375.1 320.43 L375.6 317.38 L376.1 314.07 L376.6 310.5 L377.1 306.7 L377.6 302.68 L378.1 298.51 L378.6 294.25 L379.1 290 L379.6 285.88 L380.1 282.02 L380.6 278.57 L381.1 275.69 L381.6 273.52 L382.1 272.16 L382.6 271.7 L383.1 272.16 L383.6 273.52 L384.1 275.69 L384.6 278.57 L385.1 282.02 L385.6 285.88 L386.1 290 L386.6 294.25 L387.1 298.51 L387.6 302.68 L388.1 306.7 L388.6 310.5 L389.1 314.07 L389.6 317.38 L390.1 320.43 L390.6 323.22 L391.1 325.77 L391.6 328.08 L392.1 330.18 L392.6 332.08 L393.1 333.79 L393.6 335.34 L394.1 336.73 L394.6 337.99 L395.1 339.13 L395.6 340.16 L396.1 341.09 L396.6 341.94 L397.1 342.7 L397.6 343.39 L398.1 344.02 L398.6 344.59 L399.1 345.12 L399.6 345.59 L400.1 346.03 L400.6 346.42 L401.1 346.79 L401.6 347.12 L402.1 347.43 L402.6 347.71 L403.1 347.97 L403.6 348.21 L404.1 348.43 L404.6 348.63 L405.1 348.82 L405.6 349 L406.1 349.16 L406.6 349.31 L407.1 349.45 L407.6 349.58 L408.1 349.7 L408.6 349.82 L409.1 349.92 L409.6 350.02 L410.1 350.11 L410.6 350.2 L411.1 350.28 L411.6 350.36 L412.1 350.43 L412.6 350.5 L413.1 350.56 L413.6 350.62 L414.1 350.68 L414.6 350.73 L415.1 350.78 L415.6 350.83 L416.1 350.87 L416.6 350.92 L417.1 350.96 L417.6 350.99 L418.1 351.03 L418.6 351.06 L419.1 351.1 L419.6 351.13 L420.1 351.16 L420.6 351.18 L421.1 351.21 L421.6 351.23 L422.1 351.26 L422.6 351.28 L423.1 351.3 L423.6 351.32 L424.1 351.34 L424.6 351.36 L425.1 351.38 L425.6 351.4 L426.1 351.41 L426.6 351.43 L427.1 351.45 L427.6 351.46 L428.1 351.47 L428.6 351.49 L429.1 351.5 L429.6 351.51 L430.1 351.52 L430.6 351.54 L431.1 351.55 L431.6 351.56 L432.1 351.57" fill="none" stroke="#d95f02" stroke-width="1.8" stroke-linejoin="round" />
<path d="M347.6 351.86 L348.1 351.86 L348.6 351.85 L349.1 351.85 L349.6 351.84 L350.1 351.84 L350.6 351.83 L351.1 351.82 L351.6 351.82 L352.1 351.81 L352.6 351.8 L353.1 351.79 L353.6 351.78 L354.1 351.76 L354.6 351.75 L355.1 351.73 L355.6 351.71 L356.1 351.69 L356.6 351.67 L357.1 351.64 L357.6 351.61 L358.1 351.58 L358.6 351.55 L359.1 351.51 L359.6 351.46 L360.1 351.41 L360.6 351.36 L361.1 351.29 L361.6 351.22 L362.1 351.15 L362.6 351.06 L363.1 350.96 L363.6 350.85 L364.1 350.73 L364.6 350.6 L365.1 350.44 L365.6 350.27 L366.1 350.09 L366.6 349.87 L367.1 349.64 L367.6 349.38 L368.1 349.08 L368.6 348.76 L369.1 348.4 L369.6 347.99 L370.1 347.55 L370.6 347.05 L371.1 346.5 L371.6 345.9 L372.1 345.22 L372.6 344.49 L373.1 343.67 L373.6 342.78 L374.1 341.8 L374.6 340.73 L375.1 339.56 L375.6 338.28 L376.1 336.9 L376.6 335.4 L377.1 333.79 L377.6 332.05 L378.1 330.19 L378.6 328.21 L379.1 326.1 L379.6 323.87 L380.1 321.52 L380.6 319.07 L381.1 316.5 L381.6 313.85 L382.1 311.12 L382.6 308.33 L383.1 305.5 L383.6 302.65 L384.1 299.81 L384.6 296.99 L385.1 294.24 L385.6 291.59 L386.1 289.05 L386.6 286.67 L387.1 284.47 L387.6 282.49 L388.1 280.74 L388.6 279.27 L389.1 278.08 L389.6 277.2 L390.1 276.64 L390.6 276.41 L391.1 276.51 L391.6 276.94 L392.1 277.69 L392.6 278.76 L393.1 280.12 L393.6 281.76 L394.1 283.65 L394.6 285.76 L395.1 288.08 L395.6 290.56 L396.1 293.17 L396.6 295.89 L397.1 298.68 L397.6 301.51 L398.1 304.36 L398.6 307.2 L399.1 310.01 L399.6 312.77 L400.1 315.45 L400.6 318.05 L401.1 320.55 L401.6 322.95 L402.1 325.22 L402.6 327.38 L403.1 329.42 L403.6 331.32 L404.1 333.11 L404.6 334.77 L405.1 336.31 L405.6 337.74 L406.1 339.06 L406.6 340.27 L407.1 341.38 L407.6 342.4 L408.1 343.32 L408.6 344.17 L409.1 344.94 L409.6 345.64 L410.1 346.27 L410.6 346.84 L411.1 347.35 L411.6 347.82 L412.1 348.24 L412.6 348.62 L413.1 348.96 L413.6 349.26 L414.1 349.54 L414.6 349.78 L415.1 350 L415.6 350.2 L416.1 350.38 L416.6 350.54 L417.1 350.68 L417.6 350.81 L418.1 350.92 L418.6 351.02 L419.1 351.11 L419.6 351.19 L420.1 351.27 L420.6 351.33 L421.1 351.39 L421.6 351.44 L422.1 351.49 L422.6 351.53 L423.1 351.57 L423.6 351.6 L424.1 351.63 L424.6 351.66 L425.1 351.68 L425.6 351.7 L426.1 351.72 L426.6 351.74 L427.1 351.76 L427.6 351.77 L428.1 351.78 L428.6 351.79 L429.1 351.8 L429.6 351.81 L430.1 351.82 L430.6 351.83 L431.1 351.84 L431.6 351.84 L432.1 351.85" fill="none" stroke="#e7298a" stroke-width="1.8" stroke-linejoin="round" />
<path d="M267.1 351.9 L267.6 351.9 L268.1 351.9 L268.6 351.9 L269.1 351.9 L269.6 351.9 L270.1 351.9 L270.6 351.9 L271.1 351.9 L271.6 351.9 L272.1 351.9 L272.6 351.9 L273.1 351.9 L273.6 351.9 L274.1 351.9 L274.6 351.9 L275.1 351.9 L275.6 351.9 L276.1 351.9 L276.6 351.9 L277.1 351.9 L277.6 351.9 L278.1 351.9 L278.6 351.9 L279.1 351.9 L279.6 351.9 L280.1 351.9 L280.6 351.9 L281.1 351.9 L281.6 351.9 L282.1 351.9 L282.6 351.9 L283.1 351.9 L283.6 351.9 L284.1 351.9 L284.6 351.9 L285.1 351.9 L285.6 351.9 L286.1 351.9 L286.6 351.9 L287.1 351.9 L287.6 351.9 L288.1 351.9 L288.6 351.9 L289.1 351.9 L289.6 351.9 L290.1 351.9 L290.6 351.9 L291.1 351.9 L291.6 351.9 L292.1 351.9 L292.6 351.9 L293.1 351.9 L293.6 351.9 L294.1 351.9 L294.6 351.9 L295.1 351.9 L295.6 351.9 L296.1 351.9 L296.6 351.9 L297.1 351.9 L297.6 351.9 L298.1 351.9 L298.6 351.9 L299.1 351.9 L299.6 351.9 L300.1 351.9 L300.6 351.9 L301.1 351.9 L301.6 351.9 L302.1 351.9 L302.6 351.9 L303.1 351.9 L303.6 351.9 L304.1 351.9 L304.6 351.9 L305.1 351.9 L305.6 351.9 L306.1 351.9 L306.6 351.9 L307.1 351.9 L307.6 351.9 L308.1 351.9 L308.6 351.9 L309.1 351.9 L309.6 351.9 L310.1 351.9 L310.6 351.9 L311.1 351.9 L311.6 351.9 L312.1 351.9 L312.6 351.9 L313.1 351.9 L313.6 351.9 L314.1 351.9 L314.6 351.9 L315.1 351.9 L315.6 351.9 L316.1 351.9 L316.6 351.9 L317.1 351.9 L317.6 351.9 L318.1 351.9 L318.6 351.9 L319.1 351.9 L319.6 351.9 L320.1 351.9 L320.6 351.9 L321.1 351.9 L321.6 351.9 L322.1 351.9 L322.6 351.9 L323.1 351.9 L323.6 351.9 L324.1 351.9 L324.6 351.9 L325.1 351.9 L325.6 351.9 L326.1 351.9 L326.6 351.9 L327.1 351.9 L327.6 351.9 L328.1 351.9 L328.6 351.9 L329.1 351.9 L329.6 351.9 L330.1 351.9 L330.6 351.9 L331.1 351.9 L331.6 351.9 L332.1 351.9 L332.6 351.9 L333.1 351.9 L333.6 351.9 L334.1 351.9 L334.6 351.9 L335.1 351.9 L335.6 351.9 L336.1 351.9 L336.6 351.9 L337.1 351.9 L337.6 351.9 L338.1 351.9 L338.6 351.9 L339.1 351.9 L339.6 351.9 L340.1 351.9 L340.6 351.9 L341.1 351.9 L341.6 351.9 L342.1 351.9 L342.6 351.9 L343.1 351.9 L343.6 351.9 L344.1 351.9 L344.6 351.9 L345.1 351.9 L345.6 351.9 L346.1 351.9 L346.6 351.9 L347.1 351.9 L347.6 351.9 L348.1 351.9 L348.6 351.9 L349.1 351.9 L349.6 351.9 L350.1 351.9 L350.6 351.9 L351.1 351.9 L351.6 351.9 L352.1 351.9 L352.6 351.9 L353.1 351.9 L353.6 351.9 L354.1 351.9 L354.6 351.9 L355.1 351.9 L355.6 351.9 L356.1 351.9 L356.6 351.9 L357.1 351.9 L357.6 351.9 L358.1 351.9 L358.6 351.9 L359.1 351.9 L359.6 351.9 L360.1 351.9 L360.6 351.9 L361.1 351.9 L361.6 351.9 L362.1 351.9 L362.6 351.9 L363.1 351.9 L363.6 351.9 L364.1 351.9 L364.6 351.9 L365.1 351.9 L365.6 351.9 L366.1 351.9 L366.6 351.9 L367.1 351.9 L367.6 351.9 L368.1 351.9 L368.6 351.9 L369.1 351.9 L369.6 351.9 L370.1 351.9 L370.6 351.9 L371.1 351.9 L371.6 351.9 L372.1 351.9 L372.6 351.9 L373.1 351.89 L373.6 351.89 L374.1 351.89 L374.6 351.89 L375.1 351.88 L375.6 351.88 L376.1 351.87 L376.6 351.86 L377.1 351.85 L377.6 351.84 L378.1 351.83 L378.6 351.81 L379.1 351.78 L379.6 351.75 L380.1 351.71 L380.6 351.67 L381.1 351.62 L381.6 351.55 L382.1 351.47 L382.6 351.37 L383.1 351.26 L383.6 351.12 L384.1 350.96 L384.6 350.76 L385.1 350.54 L385.6 350.27 L386.1 349.97 L386.6 349.61 L387.1 349.2 L387.6 348.72 L388.1 348.18 L388.6 347.57 L389.1 346.87 L389.6 346.08 L390.1 345.2 L390.6 344.21 L391.1 343.11 L391.6 341.9 L392.1 340.56 L392.6 339.1 L393.1 337.51 L393.6 335.78 L394.1 333.91 L394.6 331.92 L395.1 329.79 L395.6 327.52 L396.1 325.14 L396.6 322.64 L397.1 320.03 L397.6 317.33 L398.1 314.56 L398.6 311.71 L399.1 308.83 L399.6 305.92 L400.1 303.02 L400.6 300.14 L401.1 297.3 L401.6 294.55 L402.1 291.89 L402.6 289.36 L403.1 286.99 L403.6 284.8 L404.1 282.8 L404.6 281.04 L405.1 279.52 L405.6 278.26 L406.1 277.28 L406.6 276.59 L407.1 276.2 L407.6 276.11 L408.1 276.32 L408.6 276.83 L409.1 277.64 L409.6 278.73 L410.1 280.1 L410.6 281.72 L411.1 283.58 L411.6 285.65 L412.1 287.92 L412.6 290.36 L413.1 292.94 L413.6 295.64 L414.1 298.43 L414.6 301.29 L415.1 304.18 L415.6 307.09 L416.1 309.99 L416.6 312.86 L417.1 315.67 L417.6 318.42 L418.1 321.09 L418.6 323.65 L419.1 326.11 L419.6 328.44 L420.1 330.65 L420.6 332.73 L421.1 334.68 L421.6 336.49 L422.1 338.16 L422.6 339.7 L423.1 341.11 L423.6 342.4 L424.1 343.57 L424.6 344.62 L425.1 345.56 L425.6 346.41 L426.1 347.16 L426.6 347.82 L427.1 348.41 L427.6 348.92 L428.1 349.37 L428.6 349.76 L429.1 350.1 L429.6 350.39 L430.1 350.63 L430.6 350.85 L431.1 351.03 L431.6 351.18 L432.1 351.31" fill="none" stroke="#66a61e" stroke-width="1.8" stroke-linejoin="round" />
<text x="375.5" y="268.8" font-size="11.4" fill="#86b974" stroke="#86b974" stroke-width="0.08" text-anchor="middle" font-family="Liberation Sans, Arial, sans-serif" textLength="104.6" lengthAdjust="spacingAndGlyphs">Simulated posteriors</text>
<text x="349.3" y="309.1" font-size="11.4" fill="#3a8ff5" stroke="#3a8ff5" stroke-width="0.08" text-anchor="middle" font-family="Liberation Sans, Arial, sans-serif" textLength="24.3" lengthAdjust="spacingAndGlyphs">Prior</text>
<text x="346.3" y="369.2" font-size="14" text-anchor="middle" font-family="Liberation Serif, Times New Roman, serif" font-style="italic" fill="#000" stroke="#000" stroke-width="0.15">θ</text>
<text transform="translate(446.9 303.1) rotate(-90)" font-size="11" fill="#000" stroke="#000" stroke-width="0.25" text-anchor="middle" font-family="Liberation Sans, Arial, sans-serif" >Probability of Apoptosis</text>
<path d="M451.6 257 H605.9" stroke="#bbb" stroke-width="1"/>
<path d="M451.6 352 H605.9" stroke="#aaa" stroke-width="1"/>
<path d="M452.1 257 V352" stroke="#eee" stroke-width="1"/>
<path d="M605.4 257 V352" stroke="#666" stroke-width="1"/>
<path d="M452 265.9 L483.01 269.02 L498.04 276.23 L513.31 288.24 L528.82 308.66 L543.85 320.19 L559.36 332.68 L574.62 346.62 L605.4 351.9" fill="none" stroke="#1b9e77" stroke-width="1.6" stroke-linejoin="round" />
<rect x="481.51" y="267.52" width="3" height="3" fill="#1b9e77"/>
<rect x="496.54" y="274.73" width="3" height="3" fill="#1b9e77"/>
<rect x="511.81" y="286.74" width="3" height="3" fill="#1b9e77"/>
<rect x="527.32" y="307.16" width="3" height="3" fill="#1b9e77"/>
<rect x="542.35" y="318.69" width="3" height="3" fill="#1b9e77"/>
<rect x="557.86" y="331.18" width="3" height="3" fill="#1b9e77"/>
<rect x="573.12" y="345.12" width="3" height="3" fill="#1b9e77"/>
<rect x="603.9" y="350.4" width="3" height="3" fill="#1b9e77"/>
<path d="M452 265.9 L483.01 268.54 L498.04 275.03 L513.31 292.56 L528.82 312.74 L543.85 321.87 L559.36 334.36 L574.62 347.1 L605.4 351.9" fill="none" stroke="#7570b3" stroke-width="1.6" stroke-linejoin="round" />
<rect x="481.51" y="267.04" width="3" height="3" fill="#7570b3"/>
<rect x="496.54" y="273.53" width="3" height="3" fill="#7570b3"/>
<rect x="511.81" y="291.06" width="3" height="3" fill="#7570b3"/>
<rect x="527.32" y="311.24" width="3" height="3" fill="#7570b3"/>
<rect x="542.35" y="320.37" width="3" height="3" fill="#7570b3"/>
<rect x="557.86" y="332.86" width="3" height="3" fill="#7570b3"/>
<rect x="573.12" y="345.6" width="3" height="3" fill="#7570b3"/>
<rect x="603.9" y="350.4" width="3" height="3" fill="#7570b3"/>
<path d="M452 265.9 L483.01 267.1 L498.04 273.35 L513.31 284.16 L528.82 304.58 L543.85 324.75 L559.36 331.96 L574.62 344.21 L605.4 351.9" fill="none" stroke="#d95f02" stroke-width="1.6" stroke-linejoin="round" />
<rect x="481.51" y="265.6" width="3" height="3" fill="#d95f02"/>
<rect x="496.54" y="271.85" width="3" height="3" fill="#d95f02"/>
<rect x="511.81" y="282.66" width="3" height="3" fill="#d95f02"/>
<rect x="527.32" y="303.08" width="3" height="3" fill="#d95f02"/>
<rect x="542.35" y="323.25" width="3" height="3" fill="#d95f02"/>
<rect x="557.86" y="330.46" width="3" height="3" fill="#d95f02"/>
<rect x="573.12" y="342.71" width="3" height="3" fill="#d95f02"/>
<rect x="603.9" y="350.4" width="3" height="3" fill="#d95f02"/>
<path d="M452 265.9 L483.01 268.54 L498.04 272.63 L513.31 286.8 L528.82 307.94 L543.85 322.35 L559.36 339.17 L574.62 349.02 L605.4 351.9" fill="none" stroke="#e7298a" stroke-width="1.6" stroke-linejoin="round" />
<rect x="481.51" y="267.04" width="3" height="3" fill="#e7298a"/>
<rect x="496.54" y="271.13" width="3" height="3" fill="#e7298a"/>
<rect x="511.81" y="285.3" width="3" height="3" fill="#e7298a"/>
<rect x="527.32" y="306.44" width="3" height="3" fill="#e7298a"/>
<rect x="542.35" y="320.85" width="3" height="3" fill="#e7298a"/>
<rect x="557.86" y="337.67" width="3" height="3" fill="#e7298a"/>
<rect x="573.12" y="347.52" width="3" height="3" fill="#e7298a"/>
<rect x="603.9" y="350.4" width="3" height="3" fill="#e7298a"/>
<text y="366.9" font-size="12.2" font-family="Liberation Serif, Times New Roman, serif" font-style="italic" fill="#000"><tspan x="512.7">I</tspan><tspan x="517" textLength="7" lengthAdjust="spacingAndGlyphs">C</tspan><tspan x="523.9" dy="2" font-size="8.6" font-style="normal" stroke="#000" stroke-width="0.25">50</tspan></text>
<path d="M102.1 390.5 H254.8" stroke="#888" stroke-width="1"/>
<path d="M102.1 485.4 H254.8" stroke="#777" stroke-width="1"/>
<path d="M102.6 390.5 V485.4" stroke="#666" stroke-width="1"/>
<path d="M254.3 390.5 V485.4" stroke="#999" stroke-width="1"/>
<path d="M102.4 482.6 L171.5 481.7 L174.2 480.4 L178.6 400.2 L235 400.2" fill="none" stroke="#1b9e77" stroke-width="1" stroke-opacity="0.7" stroke-linejoin="round" />
<path d="M102.4 482.6 L114.8 480.8 L117.1 479 L121.4 399.3 L235 399.3" fill="none" stroke="#7570b3" stroke-width="1" stroke-opacity="0.7" stroke-linejoin="round" />
<path d="M102.4 482.6 L128.1 481.1 L131.7 477.2 L133.4 469.3 L136.6 410.8 L140 410.8" fill="none" stroke="#d95f02" stroke-width="0.9" stroke-opacity="0.75" stroke-linejoin="round" />
<path d="M136.8 410.7 L232 410.7" fill="none" stroke="#d95f02" stroke-width="1.7" stroke-opacity="0.5" stroke-linejoin="round" />
<path d="M102.4 482.6 L127.2 481.1 L129.5 478.1 L132.5 407.6 L235.5 407.6" fill="none" stroke="#e7298a" stroke-width="1" stroke-opacity="0.8" stroke-linejoin="round" />
<path d="M235.5 393.4 V402.4 M234.1 393.4 H236.9 M234.1 402.4 H236.9" stroke="#111" stroke-width="0.9" fill="none"/>
<circle cx="235.5" cy="398" r="1.35" fill="#000"/>
<path d="M230.5 407.2 V416.4 M229.1 407.2 H231.9 M229.1 416.4 H231.9" stroke="#111" stroke-width="0.9" fill="none"/>
<circle cx="230.5" cy="411.8" r="1.35" fill="#000"/>
<path d="M234 408.5 V417.5 M232.6 408.5 H235.4 M232.6 417.5 H235.4" stroke="#111" stroke-width="0.9" fill="none"/>
<circle cx="234" cy="413.1" r="1.35" fill="#000"/>
<path d="M235.5 408.5 V417.5 M234.1 408.5 H236.9 M234.1 417.5 H236.9" stroke="#111" stroke-width="0.9" fill="none"/>
<circle cx="235.5" cy="413.1" r="1.35" fill="#000"/>
<text x="175.3" y="385.4" font-size="14" fill="#7c78be" stroke="#7c78be" stroke-width="0.25" text-anchor="middle" font-family="Liberation Sans, Arial, sans-serif" >Species “C”</text>
<text transform="translate(94.4 439.3) rotate(-90)" font-size="11" fill="#000" stroke="#000" stroke-width="0.25" text-anchor="middle" font-family="Liberation Sans, Arial, sans-serif" >Concentration</text>
<text x="179.4" y="499.5" font-size="11" fill="#000" stroke="#000" stroke-width="0.25" text-anchor="middle" font-family="Liberation Sans, Arial, sans-serif" >Time</text>
<path d="M267.5 390.9 H432.1" stroke="#aaa" stroke-width="1"/>
<path d="M267.5 485.5 H432.1" stroke="#999" stroke-width="1"/>
<path d="M268 390.9 V485.5" stroke="#aaa" stroke-width="1"/>
<path d="M431.6 390.9 V485.5" stroke="#888" stroke-width="1"/>
<path d="M289.1 485.66 L289.6 485.66 L290.1 485.65 L290.6 485.64 L291.1 485.64 L291.6 485.63 L292.1 485.62 L292.6 485.61 L293.1 485.6 L293.6 485.59 L294.1 485.58 L294.6 485.57 L295.1 485.56 L295.6 485.54 L296.1 485.52 L296.6 485.51 L297.1 485.49 L297.6 485.46 L298.1 485.44 L298.6 485.41 L299.1 485.38 L299.6 485.35 L300.1 485.32 L300.6 485.28 L301.1 485.24 L301.6 485.2 L302.1 485.15 L302.6 485.1 L303.1 485.05 L303.6 484.99 L304.1 484.92 L304.6 484.86 L305.1 484.78 L305.6 484.7 L306.1 484.62 L306.6 484.53 L307.1 484.43 L307.6 484.32 L308.1 484.21 L308.6 484.09 L309.1 483.97 L309.6 483.83 L310.1 483.68 L310.6 483.53 L311.1 483.37 L311.6 483.19 L312.1 483.01 L312.6 482.82 L313.1 482.61 L313.6 482.39 L314.1 482.16 L314.6 481.92 L315.1 481.67 L315.6 481.4 L316.1 481.12 L316.6 480.83 L317.1 480.52 L317.6 480.19 L318.1 479.86 L318.6 479.5 L319.1 479.13 L319.6 478.75 L320.1 478.35 L320.6 477.94 L321.1 477.51 L321.6 477.06 L322.1 476.6 L322.6 476.12 L323.1 475.62 L323.6 475.11 L324.1 474.59 L324.6 474.05 L325.1 473.49 L325.6 472.92 L326.1 472.34 L326.6 471.74 L327.1 471.13 L327.6 470.5 L328.1 469.87 L328.6 469.22 L329.1 468.56 L329.6 467.9 L330.1 467.22 L330.6 466.54 L331.1 465.85 L331.6 465.15 L332.1 464.45 L332.6 463.74 L333.1 463.04 L333.6 462.33 L334.1 461.62 L334.6 460.91 L335.1 460.21 L335.6 459.51 L336.1 458.82 L336.6 458.13 L337.1 457.46 L337.6 456.79 L338.1 456.13 L338.6 455.49 L339.1 454.87 L339.6 454.26 L340.1 453.66 L340.6 453.09 L341.1 452.54 L341.6 452 L342.1 451.5 L342.6 451.01 L343.1 450.55 L343.6 450.12 L344.1 449.72 L344.6 449.35 L345.1 449.01 L345.6 448.69 L346.1 448.41 L346.6 448.17 L347.1 447.95 L347.6 447.77 L348.1 447.63 L348.6 447.52 L349.1 447.45 L349.6 447.41 L350.1 447.4 L350.6 447.43 L351.1 447.5 L351.6 447.61 L352.1 447.74 L352.6 447.92 L353.1 448.12 L353.6 448.36 L354.1 448.64 L354.6 448.94 L355.1 449.28 L355.6 449.64 L356.1 450.04 L356.6 450.47 L357.1 450.92 L357.6 451.4 L358.1 451.9 L358.6 452.43 L359.1 452.98 L359.6 453.55 L360.1 454.14 L360.6 454.74 L361.1 455.37 L361.6 456.01 L362.1 456.66 L362.6 457.32 L363.1 458 L363.6 458.68 L364.1 459.37 L364.6 460.07 L365.1 460.77 L365.6 461.48 L366.1 462.19 L366.6 462.89 L367.1 463.6 L367.6 464.31 L368.1 465.01 L368.6 465.71 L369.1 466.4 L369.6 467.08 L370.1 467.76 L370.6 468.43 L371.1 469.09 L371.6 469.74 L372.1 470.38 L372.6 471 L373.1 471.62 L373.6 472.22 L374.1 472.81 L374.6 473.38 L375.1 473.94 L375.6 474.48 L376.1 475.01 L376.6 475.52 L377.1 476.02 L377.6 476.5 L378.1 476.97 L378.6 477.42 L379.1 477.85 L379.6 478.27 L380.1 478.67 L380.6 479.06 L381.1 479.43 L381.6 479.79 L382.1 480.13 L382.6 480.45 L383.1 480.76 L383.6 481.06 L384.1 481.35 L384.6 481.62 L385.1 481.87 L385.6 482.12 L386.1 482.35 L386.6 482.57 L387.1 482.78 L387.6 482.97 L388.1 483.16 L388.6 483.33 L389.1 483.5 L389.6 483.65 L390.1 483.8 L390.6 483.94 L391.1 484.07 L391.6 484.19 L392.1 484.3 L392.6 484.41 L393.1 484.51 L393.6 484.6 L394.1 484.69 L394.6 484.77 L395.1 484.84 L395.6 484.91 L396.1 484.98 L396.6 485.04 L397.1 485.09 L397.6 485.14 L398.1 485.19 L398.6 485.23 L399.1 485.27 L399.6 485.31 L400.1 485.35 L400.6 485.38 L401.1 485.41 L401.6 485.43 L402.1 485.46 L402.6 485.48 L403.1 485.5 L403.6 485.52 L404.1 485.54 L404.6 485.55 L405.1 485.57 L405.6 485.58 L406.1 485.59 L406.6 485.6 L407.1 485.61 L407.6 485.62 L408.1 485.63 L408.6 485.64 L409.1 485.64 L409.6 485.65 L410.1 485.65 L410.6 485.66 L411.1 485.66" fill="none" stroke="#3a8ff5" stroke-width="1.8" stroke-linejoin="round" />
<path d="M267.1 482.25 L267.6 482.15 L268.1 482.05 L268.6 481.94 L269.1 481.83 L269.6 481.71 L270.1 481.59 L270.6 481.47 L271.1 481.34 L271.6 481.2 L272.1 481.06 L272.6 480.9 L273.1 480.75 L273.6 480.58 L274.1 480.41 L274.6 480.22 L275.1 480.03 L275.6 479.83 L276.1 479.62 L276.6 479.39 L277.1 479.16 L277.6 478.91 L278.1 478.65 L278.6 478.37 L279.1 478.08 L279.6 477.77 L280.1 477.44 L280.6 477.1 L281.1 476.73 L281.6 476.34 L282.1 475.93 L282.6 475.49 L283.1 475.02 L283.6 474.52 L284.1 473.99 L284.6 473.42 L285.1 472.82 L285.6 472.18 L286.1 471.49 L286.6 470.75 L287.1 469.97 L287.6 469.12 L288.1 468.22 L288.6 467.26 L289.1 466.23 L289.6 465.13 L290.1 463.95 L290.6 462.69 L291.1 461.34 L291.6 459.91 L292.1 458.39 L292.6 456.77 L293.1 455.06 L293.6 453.27 L294.1 451.38 L294.6 449.43 L295.1 447.41 L295.6 445.35 L296.1 443.26 L296.6 441.19 L297.1 439.15 L297.6 437.21 L298.1 435.39 L298.6 433.75 L299.1 432.34 L299.6 431.21 L300.1 430.39 L300.6 429.92 L301.1 429.81 L301.6 430.06 L302.1 430.68 L302.6 431.63 L303.1 432.88 L303.6 434.38 L304.1 436.1 L304.6 437.97 L305.1 439.96 L305.6 442.01 L306.1 444.1 L306.6 446.18 L307.1 448.22 L307.6 450.22 L308.1 452.15 L308.6 453.99 L309.1 455.76 L309.6 457.43 L310.1 459.01 L310.6 460.49 L311.1 461.89 L311.6 463.2 L312.1 464.43 L312.6 465.58 L313.1 466.65 L313.6 467.65 L314.1 468.59 L314.6 469.47 L315.1 470.29 L315.6 471.05 L316.1 471.77 L316.6 472.44 L317.1 473.07 L317.6 473.65 L318.1 474.21 L318.6 474.72 L319.1 475.21 L319.6 475.67 L320.1 476.09 L320.6 476.5 L321.1 476.88 L321.6 477.24 L322.1 477.58 L322.6 477.9 L323.1 478.2 L323.6 478.49 L324.1 478.76 L324.6 479.01 L325.1 479.26 L325.6 479.49 L326.1 479.7 L326.6 479.91 L327.1 480.11 L327.6 480.3 L328.1 480.48 L328.6 480.65 L329.1 480.81 L329.6 480.97 L330.1 481.11 L330.6 481.25 L331.1 481.39 L331.6 481.52 L332.1 481.64 L332.6 481.76 L333.1 481.87 L333.6 481.98 L334.1 482.09 L334.6 482.19 L335.1 482.28 L335.6 482.38 L336.1 482.46 L336.6 482.55 L337.1 482.63 L337.6 482.71 L338.1 482.79 L338.6 482.86 L339.1 482.93 L339.6 483 L340.1 483.06 L340.6 483.13 L341.1 483.19 L341.6 483.25 L342.1 483.3 L342.6 483.36 L343.1 483.41 L343.6 483.46 L344.1 483.51 L344.6 483.56 L345.1 483.61 L345.6 483.65 L346.1 483.69 L346.6 483.74 L347.1 483.78 L347.6 483.82 L348.1 483.86 L348.6 483.89 L349.1 483.93 L349.6 483.96 L350.1 484 L350.6 484.03 L351.1 484.06 L351.6 484.09 L352.1 484.13 L352.6 484.15 L353.1 484.18 L353.6 484.21 L354.1 484.24 L354.6 484.27 L355.1 484.29 L355.6 484.32 L356.1 484.34 L356.6 484.36 L357.1 484.39 L357.6 484.41 L358.1 484.43 L358.6 484.45 L359.1 484.47 L359.6 484.49 L360.1 484.51 L360.6 484.53 L361.1 484.55 L361.6 484.57 L362.1 484.59 L362.6 484.61 L363.1 484.62 L363.6 484.64 L364.1 484.66 L364.6 484.67 L365.1 484.69 L365.6 484.7 L366.1 484.72 L366.6 484.73 L367.1 484.75 L367.6 484.76 L368.1 484.78 L368.6 484.79 L369.1 484.8 L369.6 484.82 L370.1 484.83 L370.6 484.84 L371.1 484.85 L371.6 484.86 L372.1 484.88 L372.6 484.89 L373.1 484.9 L373.6 484.91 L374.1 484.92 L374.6 484.93 L375.1 484.94 L375.6 484.95 L376.1 484.96 L376.6 484.97 L377.1 484.98 L377.6 484.99 L378.1 485 L378.6 485.01 L379.1 485.01 L379.6 485.02 L380.1 485.03 L380.6 485.04 L381.1 485.05 L381.6 485.06 L382.1 485.06 L382.6 485.07 L383.1 485.08 L383.6 485.09 L384.1 485.09 L384.6 485.1 L385.1 485.11 L385.6 485.12 L386.1 485.12 L386.6 485.13 L387.1 485.14 L387.6 485.14 L388.1 485.15 L388.6 485.15 L389.1 485.16 L389.6 485.17 L390.1 485.17 L390.6 485.18 L391.1 485.18 L391.6 485.19 L392.1 485.19 L392.6 485.2 L393.1 485.21 L393.6 485.21 L394.1 485.22 L394.6 485.22 L395.1 485.23 L395.6 485.23 L396.1 485.24 L396.6 485.24 L397.1 485.25 L397.6 485.25 L398.1 485.25 L398.6 485.26 L399.1 485.26 L399.6 485.27 L400.1 485.27 L400.6 485.28 L401.1 485.28 L401.6 485.29 L402.1 485.29 L402.6 485.29 L403.1 485.3 L403.6 485.3 L404.1 485.3 L404.6 485.31 L405.1 485.31 L405.6 485.32 L406.1 485.32 L406.6 485.32 L407.1 485.33 L407.6 485.33 L408.1 485.33 L408.6 485.34 L409.1 485.34 L409.6 485.34 L410.1 485.35 L410.6 485.35 L411.1 485.35 L411.6 485.36 L412.1 485.36 L412.6 485.36 L413.1 485.37 L413.6 485.37 L414.1 485.37 L414.6 485.37 L415.1 485.38 L415.6 485.38 L416.1 485.38 L416.6 485.39 L417.1 485.39 L417.6 485.39 L418.1 485.39 L418.6 485.4 L419.1 485.4 L419.6 485.4 L420.1 485.4 L420.6 485.41 L421.1 485.41 L421.6 485.41 L422.1 485.41 L422.6 485.42 L423.1 485.42 L423.6 485.42 L424.1 485.42 L424.6 485.42 L425.1 485.43 L425.6 485.43 L426.1 485.43 L426.6 485.43 L427.1 485.44 L427.6 485.44 L428.1 485.44 L428.6 485.44 L429.1 485.44 L429.6 485.45 L430.1 485.45 L430.6 485.45 L431.1 485.45 L431.6 485.45 L432.1 485.45" fill="none" stroke="#7570b3" stroke-width="1.8" stroke-linejoin="round" />
<path d="M267.1 485.36 L267.6 485.35 L268.1 485.34 L268.6 485.33 L269.1 485.32 L269.6 485.31 L270.1 485.29 L270.6 485.28 L271.1 485.27 L271.6 485.25 L272.1 485.24 L272.6 485.22 L273.1 485.21 L273.6 485.19 L274.1 485.18 L274.6 485.16 L275.1 485.14 L275.6 485.12 L276.1 485.1 L276.6 485.08 L277.1 485.06 L277.6 485.03 L278.1 485.01 L278.6 484.98 L279.1 484.96 L279.6 484.93 L280.1 484.9 L280.6 484.87 L281.1 484.83 L281.6 484.8 L282.1 484.76 L282.6 484.72 L283.1 484.68 L283.6 484.64 L284.1 484.59 L284.6 484.55 L285.1 484.49 L285.6 484.44 L286.1 484.38 L286.6 484.32 L287.1 484.26 L287.6 484.19 L288.1 484.12 L288.6 484.04 L289.1 483.96 L289.6 483.87 L290.1 483.78 L290.6 483.68 L291.1 483.58 L291.6 483.46 L292.1 483.34 L292.6 483.21 L293.1 483.07 L293.6 482.92 L294.1 482.76 L294.6 482.59 L295.1 482.4 L295.6 482.2 L296.1 481.99 L296.6 481.75 L297.1 481.5 L297.6 481.22 L298.1 480.93 L298.6 480.6 L299.1 480.25 L299.6 479.87 L300.1 479.45 L300.6 478.99 L301.1 478.5 L301.6 477.95 L302.1 477.35 L302.6 476.69 L303.1 475.97 L303.6 475.18 L304.1 474.31 L304.6 473.34 L305.1 472.28 L305.6 471.11 L306.1 469.82 L306.6 468.4 L307.1 466.82 L307.6 465.08 L308.1 463.17 L308.6 461.06 L309.1 458.75 L309.6 456.21 L310.1 453.45 L310.6 450.45 L311.1 447.21 L311.6 443.74 L312.1 440.07 L312.6 436.22 L313.1 432.24 L313.6 428.22 L314.1 424.22 L314.6 420.37 L315.1 416.79 L315.6 413.6 L316.1 410.95 L316.6 408.96 L317.1 407.72 L317.6 407.3 L318.1 407.72 L318.6 408.96 L319.1 410.95 L319.6 413.6 L320.1 416.79 L320.6 420.37 L321.1 424.22 L321.6 428.22 L322.1 432.24 L322.6 436.22 L323.1 440.07 L323.6 443.74 L324.1 447.21 L324.6 450.45 L325.1 453.45 L325.6 456.21 L326.1 458.75 L326.6 461.06 L327.1 463.17 L327.6 465.08 L328.1 466.82 L328.6 468.4 L329.1 469.82 L329.6 471.11 L330.1 472.28 L330.6 473.34 L331.1 474.31 L331.6 475.18 L332.1 475.97 L332.6 476.69 L333.1 477.35 L333.6 477.95 L334.1 478.5 L334.6 478.99 L335.1 479.45 L335.6 479.87 L336.1 480.25 L336.6 480.6 L337.1 480.93 L337.6 481.22 L338.1 481.5 L338.6 481.75 L339.1 481.99 L339.6 482.2 L340.1 482.4 L340.6 482.59 L341.1 482.76 L341.6 482.92 L342.1 483.07 L342.6 483.21 L343.1 483.34 L343.6 483.46 L344.1 483.58 L344.6 483.68 L345.1 483.78 L345.6 483.87 L346.1 483.96 L346.6 484.04 L347.1 484.12 L347.6 484.19 L348.1 484.26 L348.6 484.32 L349.1 484.38 L349.6 484.44 L350.1 484.49 L350.6 484.55 L351.1 484.59 L351.6 484.64 L352.1 484.68 L352.6 484.72 L353.1 484.76 L353.6 484.8 L354.1 484.83 L354.6 484.87 L355.1 484.9 L355.6 484.93 L356.1 484.96 L356.6 484.98 L357.1 485.01 L357.6 485.03 L358.1 485.06 L358.6 485.08 L359.1 485.1 L359.6 485.12 L360.1 485.14 L360.6 485.16 L361.1 485.18 L361.6 485.19 L362.1 485.21 L362.6 485.22 L363.1 485.24 L363.6 485.25 L364.1 485.27 L364.6 485.28 L365.1 485.29 L365.6 485.31 L366.1 485.32 L366.6 485.33 L367.1 485.34 L367.6 485.35 L368.1 485.36 L368.6 485.37 L369.1 485.38 L369.6 485.39 L370.1 485.4 L370.6 485.41 L371.1 485.41 L371.6 485.42 L372.1 485.43 L372.6 485.44 L373.1 485.44 L373.6 485.45 L374.1 485.46 L374.6 485.46 L375.1 485.47 L375.6 485.47 L376.1 485.48 L376.6 485.48 L377.1 485.49 L377.6 485.5 L378.1 485.5 L378.6 485.5 L379.1 485.51 L379.6 485.51 L380.1 485.52 L380.6 485.52 L381.1 485.53 L381.6 485.53 L382.1 485.53 L382.6 485.54 L383.1 485.54 L383.6 485.55 L384.1 485.55 L384.6 485.55 L385.1 485.56 L385.6 485.56 L386.1 485.56 L386.6 485.56 L387.1 485.57 L387.6 485.57 L388.1 485.57 L388.6 485.58 L389.1 485.58 L389.6 485.58 L390.1 485.58 L390.6 485.59 L391.1 485.59 L391.6 485.59 L392.1 485.59 L392.6 485.59 L393.1 485.6 L393.6 485.6 L394.1 485.6 L394.6 485.6 L395.1 485.6 L395.6 485.61 L396.1 485.61 L396.6 485.61 L397.1 485.61 L397.6 485.61 L398.1 485.61 L398.6 485.62 L399.1 485.62 L399.6 485.62 L400.1 485.62 L400.6 485.62 L401.1 485.62 L401.6 485.62 L402.1 485.63 L402.6 485.63 L403.1 485.63 L403.6 485.63 L404.1 485.63 L404.6 485.63 L405.1 485.63 L405.6 485.63 L406.1 485.64 L406.6 485.64 L407.1 485.64 L407.6 485.64 L408.1 485.64 L408.6 485.64 L409.1 485.64 L409.6 485.64 L410.1 485.64 L410.6 485.64 L411.1 485.64 L411.6 485.65 L412.1 485.65 L412.6 485.65 L413.1 485.65 L413.6 485.65 L414.1 485.65 L414.6 485.65 L415.1 485.65 L415.6 485.65 L416.1 485.65 L416.6 485.65 L417.1 485.65 L417.6 485.65 L418.1 485.66 L418.6 485.66 L419.1 485.66 L419.6 485.66 L420.1 485.66 L420.6 485.66 L421.1 485.66 L421.6 485.66 L422.1 485.66" fill="none" stroke="#d95f02" stroke-width="1.8" stroke-linejoin="round" />
<path d="M267.1 485.58 L267.6 485.56 L268.1 485.54 L268.6 485.52 L269.1 485.49 L269.6 485.46 L270.1 485.42 L270.6 485.38 L271.1 485.34 L271.6 485.29 L272.1 485.24 L272.6 485.17 L273.1 485.1 L273.6 485.03 L274.1 484.94 L274.6 484.85 L275.1 484.74 L275.6 484.63 L276.1 484.5 L276.6 484.36 L277.1 484.2 L277.6 484.03 L278.1 483.84 L278.6 483.64 L279.1 483.42 L279.6 483.17 L280.1 482.91 L280.6 482.62 L281.1 482.32 L281.6 481.98 L282.1 481.62 L282.6 481.23 L283.1 480.82 L283.6 480.37 L284.1 479.9 L284.6 479.39 L285.1 478.85 L285.6 478.28 L286.1 477.67 L286.6 477.03 L287.1 476.35 L287.6 475.63 L288.1 474.88 L288.6 474.1 L289.1 473.27 L289.6 472.42 L290.1 471.52 L290.6 470.6 L291.1 469.64 L291.6 468.64 L292.1 467.62 L292.6 466.57 L293.1 465.49 L293.6 464.39 L294.1 463.27 L294.6 462.12 L295.1 460.96 L295.6 459.79 L296.1 458.61 L296.6 457.43 L297.1 456.24 L297.6 455.05 L298.1 453.87 L298.6 452.71 L299.1 451.55 L299.6 450.42 L300.1 449.31 L300.6 448.24 L301.1 447.19 L301.6 446.19 L302.1 445.22 L302.6 444.31 L303.1 443.44 L303.6 442.64 L304.1 441.89 L304.6 441.2 L305.1 440.58 L305.6 440.03 L306.1 439.55 L306.6 439.15 L307.1 438.82 L307.6 438.57 L308.1 438.4 L308.6 438.31 L309.1 438.31 L309.6 438.38 L310.1 438.53 L310.6 438.75 L311.1 439.05 L311.6 439.43 L312.1 439.88 L312.6 440.4 L313.1 440.98 L313.6 441.64 L314.1 442.35 L314.6 443.13 L315.1 443.95 L315.6 444.84 L316.1 445.76 L316.6 446.73 L317.1 447.75 L317.6 448.79 L318.1 449.87 L318.6 450.97 L319.1 452.09 L319.6 453.23 L320.1 454.39 L320.6 455.55 L321.1 456.72 L321.6 457.89 L322.1 459.05 L322.6 460.21 L323.1 461.36 L323.6 462.49 L324.1 463.61 L324.6 464.71 L325.1 465.79 L325.6 466.84 L326.1 467.87 L326.6 468.87 L327.1 469.84 L327.6 470.78 L328.1 471.68 L328.6 472.56 L329.1 473.39 L329.6 474.2 L330.1 474.97 L330.6 475.7 L331.1 476.4 L331.6 477.07 L332.1 477.7 L332.6 478.29 L333.1 478.86 L333.6 479.39 L334.1 479.89 L334.6 480.36 L335.1 480.8 L335.6 481.21 L336.1 481.59 L336.6 481.95 L337.1 482.28 L337.6 482.58 L338.1 482.87 L338.6 483.13 L339.1 483.37 L339.6 483.6 L340.1 483.8 L340.6 483.99 L341.1 484.16 L341.6 484.32 L342.1 484.46 L342.6 484.59 L343.1 484.71 L343.6 484.81 L344.1 484.91 L344.6 485 L345.1 485.08 L345.6 485.15 L346.1 485.21 L346.6 485.27 L347.1 485.32 L347.6 485.36 L348.1 485.4 L348.6 485.44 L349.1 485.47 L349.6 485.5 L350.1 485.53 L350.6 485.55 L351.1 485.57 L351.6 485.59 L352.1 485.6 L352.6 485.61 L353.1 485.63 L353.6 485.64 L354.1 485.64 L354.6 485.65 L355.1 485.66 L355.6 485.66" fill="none" stroke="#e7298a" stroke-width="1.8" stroke-linejoin="round" />
<path d="M267.1 483.54 L267.6 483.23 L268.1 482.89 L268.6 482.51 L269.1 482.09 L269.6 481.62 L270.1 481.1 L270.6 480.53 L271.1 479.91 L271.6 479.23 L272.1 478.48 L272.6 477.68 L273.1 476.8 L273.6 475.86 L274.1 474.85 L274.6 473.76 L275.1 472.6 L275.6 471.37 L276.1 470.06 L276.6 468.67 L277.1 467.21 L277.6 465.69 L278.1 464.09 L278.6 462.43 L279.1 460.7 L279.6 458.92 L280.1 457.09 L280.6 455.21 L281.1 453.3 L281.6 451.36 L282.1 449.4 L282.6 447.43 L283.1 445.46 L283.6 443.5 L284.1 441.56 L284.6 439.65 L285.1 437.79 L285.6 435.99 L286.1 434.26 L286.6 432.61 L287.1 431.05 L287.6 429.59 L288.1 428.25 L288.6 427.03 L289.1 425.94 L289.6 425 L290.1 424.2 L290.6 423.56 L291.1 423.08 L291.6 422.76 L292.1 422.61 L292.6 422.63 L293.1 422.81 L293.6 423.16 L294.1 423.68 L294.6 424.35 L295.1 425.17 L295.6 426.15 L296.1 427.26 L296.6 428.51 L297.1 429.87 L297.6 431.35 L298.1 432.93 L298.6 434.6 L299.1 436.35 L299.6 438.16 L300.1 440.03 L300.6 441.94 L301.1 443.89 L301.6 445.85 L302.1 447.82 L302.6 449.79 L303.1 451.75 L303.6 453.69 L304.1 455.59 L304.6 457.46 L305.1 459.28 L305.6 461.05 L306.1 462.76 L306.6 464.41 L307.1 466 L307.6 467.51 L308.1 468.95 L308.6 470.32 L309.1 471.62 L309.6 472.84 L310.1 473.98 L310.6 475.05 L311.1 476.05 L311.6 476.98 L312.1 477.84 L312.6 478.64 L313.1 479.37 L313.6 480.04 L314.1 480.65 L314.6 481.21 L315.1 481.72 L315.6 482.18 L316.1 482.59 L316.6 482.96 L317.1 483.3 L317.6 483.6 L318.1 483.86 L318.6 484.1 L319.1 484.31 L319.6 484.5 L320.1 484.66 L320.6 484.81 L321.1 484.93 L321.6 485.04 L322.1 485.14 L322.6 485.22 L323.1 485.29 L323.6 485.35 L324.1 485.41 L324.6 485.45 L325.1 485.49 L325.6 485.53 L326.1 485.55 L326.6 485.58 L327.1 485.6 L327.6 485.62 L328.1 485.63 L328.6 485.64 L329.1 485.65 L329.6 485.66 L330.1 485.67 L330.6 485.67 L331.1 485.68 L331.6 485.68 L332.1 485.69 L332.6 485.69 L333.1 485.69 L333.6 485.69 L334.1 485.69 L334.6 485.7 L335.1 485.7 L335.6 485.7 L336.1 485.7 L336.6 485.7 L337.1 485.7 L337.6 485.7 L338.1 485.7 L338.6 485.7 L339.1 485.7 L339.6 485.7 L340.1 485.7 L340.6 485.7 L341.1 485.7 L341.6 485.7 L342.1 485.7 L342.6 485.7 L343.1 485.7 L343.6 485.7 L344.1 485.7 L344.6 485.7 L345.1 485.7 L345.6 485.7 L346.1 485.7 L346.6 485.7 L347.1 485.7 L347.6 485.7 L348.1 485.7 L348.6 485.7 L349.1 485.7 L349.6 485.7 L350.1 485.7 L350.6 485.7 L351.1 485.7 L351.6 485.7 L352.1 485.7 L352.6 485.7 L353.1 485.7 L353.6 485.7 L354.1 485.7 L354.6 485.7 L355.1 485.7 L355.6 485.7 L356.1 485.7 L356.6 485.7 L357.1 485.7 L357.6 485.7 L358.1 485.7 L358.6 485.7 L359.1 485.7 L359.6 485.7 L360.1 485.7 L360.6 485.7 L361.1 485.7 L361.6 485.7 L362.1 485.7 L362.6 485.7 L363.1 485.7 L363.6 485.7 L364.1 485.7 L364.6 485.7 L365.1 485.7 L365.6 485.7 L366.1 485.7 L366.6 485.7 L367.1 485.7 L367.6 485.7 L368.1 485.7 L368.6 485.7 L369.1 485.7 L369.6 485.7 L370.1 485.7 L370.6 485.7 L371.1 485.7 L371.6 485.7 L372.1 485.7 L372.6 485.7 L373.1 485.7 L373.6 485.7 L374.1 485.7 L374.6 485.7 L375.1 485.7 L375.6 485.7 L376.1 485.7 L376.6 485.7 L377.1 485.7 L377.6 485.7 L378.1 485.7 L378.6 485.7 L379.1 485.7 L379.6 485.7 L380.1 485.7 L380.6 485.7 L381.1 485.7 L381.6 485.7 L382.1 485.7 L382.6 485.7 L383.1 485.7 L383.6 485.7 L384.1 485.7 L384.6 485.7 L385.1 485.7 L385.6 485.7 L386.1 485.7 L386.6 485.7 L387.1 485.7 L387.6 485.7 L388.1 485.7 L388.6 485.7 L389.1 485.7 L389.6 485.7 L390.1 485.7 L390.6 485.7 L391.1 485.7 L391.6 485.7 L392.1 485.7 L392.6 485.7 L393.1 485.7 L393.6 485.7 L394.1 485.7 L394.6 485.7 L395.1 485.7 L395.6 485.7 L396.1 485.7 L396.6 485.7 L397.1 485.7 L397.6 485.7 L398.1 485.7 L398.6 485.7 L399.1 485.7 L399.6 485.7 L400.1 485.7 L400.6 485.7 L401.1 485.7 L401.6 485.7 L402.1 485.7 L402.6 485.7 L403.1 485.7 L403.6 485.7 L404.1 485.7 L404.6 485.7 L405.1 485.7 L405.6 485.7 L406.1 485.7 L406.6 485.7 L407.1 485.7 L407.6 485.7 L408.1 485.7 L408.6 485.7 L409.1 485.7 L409.6 485.7 L410.1 485.7 L410.6 485.7 L411.1 485.7 L411.6 485.7 L412.1 485.7 L412.6 485.7 L413.1 485.7 L413.6 485.7 L414.1 485.7 L414.6 485.7 L415.1 485.7 L415.6 485.7 L416.1 485.7 L416.6 485.7 L417.1 485.7 L417.6 485.7 L418.1 485.7 L418.6 485.7 L419.1 485.7 L419.6 485.7 L420.1 485.7 L420.6 485.7 L421.1 485.7 L421.6 485.7 L422.1 485.7 L422.6 485.7 L423.1 485.7 L423.6 485.7 L424.1 485.7 L424.6 485.7 L425.1 485.7 L425.6 485.7 L426.1 485.7 L426.6 485.7 L427.1 485.7 L427.6 485.7 L428.1 485.7 L428.6 485.7 L429.1 485.7 L429.6 485.7 L430.1 485.7 L430.6 485.7 L431.1 485.7 L431.6 485.7 L432.1 485.7" fill="none" stroke="#66a61e" stroke-width="1.8" stroke-linejoin="round" />
<text x="322.5" y="403.1" font-size="11.4" fill="#86b974" stroke="#86b974" stroke-width="0.08" text-anchor="middle" font-family="Liberation Sans, Arial, sans-serif" textLength="104.6" lengthAdjust="spacingAndGlyphs">Simulated posteriors</text>
<text x="349.8" y="443.5" font-size="11.4" fill="#3a8ff5" stroke="#3a8ff5" stroke-width="0.08" text-anchor="middle" font-family="Liberation Sans, Arial, sans-serif" textLength="24.3" lengthAdjust="spacingAndGlyphs">Prior</text>
<text x="346.3" y="503" font-size="14" text-anchor="middle" font-family="Liberation Serif, Times New Roman, serif" font-style="italic" fill="#000" stroke="#000" stroke-width="0.15">θ</text>
<text transform="translate(446.9 437) rotate(-90)" font-size="11" fill="#000" stroke="#000" stroke-width="0.25" text-anchor="middle" font-family="Liberation Sans, Arial, sans-serif" >Probability of Apoptosis</text>
<path d="M451.75 390.4 H605.05" stroke="#888" stroke-width="0.9"/>
<path d="M451.75 485.4 H605.05" stroke="#999" stroke-width="0.9"/>
<path d="M604.6 390.4 V485.4" stroke="#666" stroke-width="0.9"/>
<path d="M452.1 399 L482.36 402.6 L497.85 411.47 L512.86 420.34 L528.35 432.32 L543.84 457.01 L558.85 470.2 L574.34 480.51 L604.6 485.3" fill="none" stroke="#1b9e77" stroke-width="1.6" stroke-linejoin="round" />
<rect x="480.86" y="401.1" width="3" height="3" fill="#1b9e77"/>
<rect x="496.35" y="409.97" width="3" height="3" fill="#1b9e77"/>
<rect x="511.36" y="418.84" width="3" height="3" fill="#1b9e77"/>
<rect x="526.85" y="430.82" width="3" height="3" fill="#1b9e77"/>
<rect x="542.34" y="455.51" width="3" height="3" fill="#1b9e77"/>
<rect x="557.35" y="468.7" width="3" height="3" fill="#1b9e77"/>
<rect x="572.84" y="479.01" width="3" height="3" fill="#1b9e77"/>
<rect x="603.1" y="483.8" width="3" height="3" fill="#1b9e77"/>
<path d="M452.1 399 L482.36 407.87 L497.85 413.86 L512.86 429.44 L528.35 444.55 L543.84 460.13 L558.85 475.47 L574.34 483.38 L604.6 485.3" fill="none" stroke="#7570b3" stroke-width="1.6" stroke-linejoin="round" />
<rect x="480.86" y="406.37" width="3" height="3" fill="#7570b3"/>
<rect x="496.35" y="412.36" width="3" height="3" fill="#7570b3"/>
<rect x="511.36" y="427.94" width="3" height="3" fill="#7570b3"/>
<rect x="526.85" y="443.05" width="3" height="3" fill="#7570b3"/>
<rect x="542.34" y="458.63" width="3" height="3" fill="#7570b3"/>
<rect x="557.35" y="473.97" width="3" height="3" fill="#7570b3"/>
<rect x="572.84" y="481.88" width="3" height="3" fill="#7570b3"/>
<rect x="603.1" y="483.8" width="3" height="3" fill="#7570b3"/>
<path d="M452.1 399 L482.36 404.27 L497.85 408.35 L512.86 417.94 L528.35 434.96 L543.84 452.22 L558.85 468.28 L574.34 484.1 L604.6 485.3" fill="none" stroke="#d95f02" stroke-width="1.6" stroke-linejoin="round" />
<rect x="480.86" y="402.77" width="3" height="3" fill="#d95f02"/>
<rect x="496.35" y="406.85" width="3" height="3" fill="#d95f02"/>
<rect x="511.36" y="416.44" width="3" height="3" fill="#d95f02"/>
<rect x="526.85" y="433.46" width="3" height="3" fill="#d95f02"/>
<rect x="542.34" y="450.72" width="3" height="3" fill="#d95f02"/>
<rect x="557.35" y="466.78" width="3" height="3" fill="#d95f02"/>
<rect x="572.84" y="482.6" width="3" height="3" fill="#d95f02"/>
<rect x="603.1" y="483.8" width="3" height="3" fill="#d95f02"/>
<path d="M452.1 399 L482.36 401.16 L497.85 415.54 L512.86 433.52 L528.35 455.1 L543.84 464.68 L558.85 473.79 L574.34 477.39 L604.6 485.3" fill="none" stroke="#e7298a" stroke-width="1.6" stroke-linejoin="round" />
<rect x="480.86" y="399.66" width="3" height="3" fill="#e7298a"/>
<rect x="496.35" y="414.04" width="3" height="3" fill="#e7298a"/>
<rect x="511.36" y="432.02" width="3" height="3" fill="#e7298a"/>
<rect x="526.85" y="453.6" width="3" height="3" fill="#e7298a"/>
<rect x="542.34" y="463.18" width="3" height="3" fill="#e7298a"/>
<rect x="557.35" y="472.29" width="3" height="3" fill="#e7298a"/>
<rect x="572.84" y="475.89" width="3" height="3" fill="#e7298a"/>
<rect x="603.1" y="483.8" width="3" height="3" fill="#e7298a"/>
<text y="499.9" font-size="12.2" font-family="Liberation Serif, Times New Roman, serif" font-style="italic" fill="#000"><tspan x="512.7">I</tspan><tspan x="517" textLength="7" lengthAdjust="spacingAndGlyphs">C</tspan><tspan x="523.9" dy="2" font-size="8.6" font-style="normal" stroke="#000" stroke-width="0.25">50</tspan></text>
<text x="181.8" y="525.1" font-size="12.5" fill="#000" stroke="#000" stroke-width="0.25" text-anchor="middle" font-family="Liberation Sans, Arial, sans-serif" >Simulate</text>
<text x="183.6" y="539.5" font-size="12.5" fill="#000" stroke="#000" stroke-width="0.25" text-anchor="middle" font-family="Liberation Sans, Arial, sans-serif" >calibration data</text>
<path d="M231.3 528 H281.5" stroke="#000" stroke-width="1.9" fill="none"/>
<path d="M285.4 528 L280.7 525.65 L280.7 530.35 Z" fill="#000"/>
<text x="346.5" y="525.55" font-size="12.5" fill="#000" stroke="#000" stroke-width="0.25" text-anchor="middle" font-family="Liberation Sans, Arial, sans-serif" >Posterior parameter</text>
<text x="348.2" y="539.65" font-size="12.5" fill="#000" stroke="#000" stroke-width="0.25" text-anchor="middle" font-family="Liberation Sans, Arial, sans-serif" >distributions</text>
<path d="M410.6 528 H472.5" stroke="#000" stroke-width="1.9" fill="none"/>
<path d="M476.4 528 L471.7 525.65 L471.7 530.35 Z" fill="#000"/>
<text x="530.5" y="525.4" font-size="12.5" fill="#000" stroke="#000" stroke-width="0.25" text-anchor="middle" font-family="Liberation Sans, Arial, sans-serif" >Posterior inhibitor</text>
<text x="532.3" y="539.5" font-size="12.5" fill="#000" stroke="#000" stroke-width="0.25" text-anchor="middle" font-family="Liberation Sans, Arial, sans-serif" >performances</text>
<text x="343.6" y="583.1" font-size="18" fill="#000" stroke="#000" stroke-width="0.25" text-anchor="middle" font-family="Liberation Serif, Times New Roman, serif" >(b)</text>
</svg>
</body></html>
